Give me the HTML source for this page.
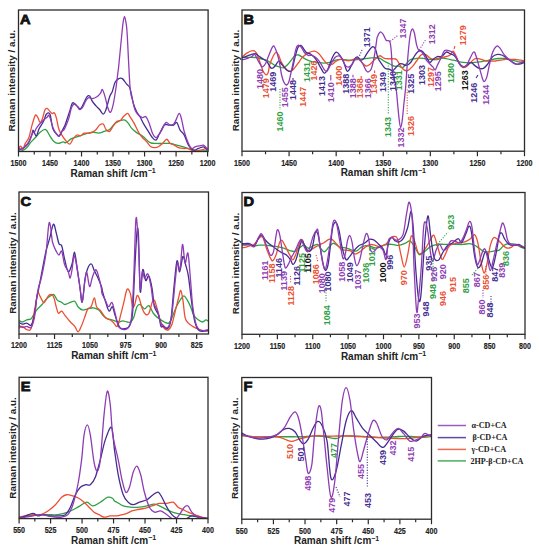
<!DOCTYPE html>
<html><head><meta charset="utf-8"><style>
html,body{margin:0;padding:0;background:#fff;}
body{width:539px;height:550px;overflow:hidden;}
svg{position:absolute;left:0;top:0;}
.tl{font:bold 8.3px "Liberation Sans", sans-serif;text-anchor:middle;fill:#222;stroke:#222;stroke-width:0.15px;}
.pl{font:bold 12.8px "Liberation Sans", sans-serif;fill:#111;stroke:#111;stroke-width:0.8px;}
.xl{font:bold 10px "Liberation Sans", sans-serif;text-anchor:middle;fill:#222;}
  .an{font:bold 9px "Liberation Sans", sans-serif;text-anchor:middle;}
.lg{font:bold 8.1px "Liberation Serif", serif;fill:#222;}
.yl{font:bold 9.9px "Liberation Sans", sans-serif;text-anchor:middle;fill:#222;}
</style></head><body>
<svg width="539" height="550" viewBox="0 0 539 550">
<defs><clipPath id="clipA"><rect x="18.5" y="10" width="189.1" height="141.5"/></clipPath><clipPath id="clipB"><rect x="242" y="10" width="282.5" height="141.2"/></clipPath><clipPath id="clipC"><rect x="19" y="192" width="189.5" height="142"/></clipPath><clipPath id="clipD"><rect x="242" y="192.5" width="283" height="141.8"/></clipPath><clipPath id="clipE"><rect x="19.1" y="377.3" width="188.9" height="141.3"/></clipPath><clipPath id="clipF"><rect x="241.8" y="377.5" width="189.7" height="141.70000000000005"/></clipPath></defs>
<g clip-path="url(#clipA)" fill="none" stroke-width="1.3" stroke-linejoin="round">
<path d="M18.00 152.09C18.73 151.85 20.91 151.36 22.36 150.64C23.82 149.91 25.27 149.18 26.73 147.73C28.18 146.27 29.64 143.61 31.09 141.91C32.55 140.21 34.00 139.12 35.45 137.55C36.91 135.97 38.12 133.79 39.82 132.45C41.52 131.12 43.94 128.94 45.64 129.55C47.33 130.15 48.67 134.15 50.00 136.09C51.33 138.03 52.30 139.97 53.64 141.18C54.97 142.39 56.42 143.24 58.00 143.36C59.58 143.48 61.76 142.03 63.09 141.91C64.42 141.79 64.61 143.18 66.00 142.64C67.39 142.09 69.64 139.61 71.45 138.64C73.27 137.67 75.09 137.42 76.91 136.82C78.73 136.21 80.55 135.61 82.36 135.00C84.18 134.39 86.00 133.64 87.82 133.18C89.64 132.73 91.45 132.27 93.27 132.27C95.09 132.27 96.91 133.33 98.73 133.18C100.55 133.03 102.36 131.97 104.18 131.36C106.00 130.76 107.97 130.76 109.64 129.55C111.30 128.33 112.97 125.30 114.18 124.09C115.39 122.88 115.85 122.88 116.91 122.27C117.97 121.67 119.20 120.82 120.55 120.45C121.90 120.09 123.71 119.58 125.01 120.08C126.31 120.57 127.23 122.02 128.35 123.41C129.46 124.81 130.29 126.89 131.69 128.42C133.08 129.95 134.75 131.20 136.69 132.60C138.64 133.99 141.15 135.10 143.37 136.77C145.60 138.44 147.82 141.50 150.05 142.61C152.28 143.73 154.50 143.31 156.73 143.45C158.95 143.59 161.18 143.45 163.41 143.45C165.63 143.45 167.86 143.17 170.08 143.45C172.31 143.73 174.54 144.56 176.76 145.12C178.99 145.67 181.21 146.09 183.44 146.79C185.66 147.48 187.89 148.59 190.12 149.29C192.34 149.99 194.57 150.68 196.79 150.96C199.02 151.24 201.52 151.10 203.47 150.96C205.42 150.82 207.65 150.26 208.48 150.13" stroke="#2ea043"/>
<path d="M18.00 147.73C18.12 147.73 18.24 147.97 18.73 147.73C19.21 147.48 20.18 146.03 20.91 146.27C21.64 146.52 22.36 149.67 23.09 149.18C23.82 148.70 24.30 145.30 25.27 143.36C26.24 141.42 27.82 140.45 28.91 137.55C30.00 134.64 30.85 129.42 31.82 125.91C32.79 122.39 34.00 118.27 34.73 116.45C35.45 114.64 35.58 114.64 36.18 115.00C36.79 115.36 37.76 117.42 38.36 118.64C38.97 119.85 39.21 122.03 39.82 122.27C40.42 122.52 41.15 122.15 42.00 120.09C42.85 118.03 44.06 111.85 44.91 109.91C45.76 107.97 46.36 108.33 47.09 108.45C47.82 108.58 48.42 109.79 49.27 110.64C50.12 111.48 51.33 113.18 52.18 113.55C53.03 113.91 53.64 111.97 54.36 112.82C55.09 113.67 55.82 115.97 56.55 118.64C57.27 121.30 57.88 126.15 58.73 128.82C59.58 131.48 60.67 132.94 61.64 134.64C62.61 136.33 63.21 137.42 64.55 139.00C65.88 140.58 68.18 144.15 69.64 144.09C71.09 144.03 72.06 140.15 73.27 138.64C74.48 137.12 75.70 135.45 76.91 135.00C78.12 134.55 79.33 136.21 80.55 135.91C81.76 135.61 82.67 133.64 84.18 133.18C85.70 132.73 87.82 133.64 89.64 133.18C91.45 132.73 93.42 131.82 95.09 130.45C96.76 129.09 98.27 126.06 99.64 125.00C101.00 123.94 102.21 123.33 103.27 124.09C104.33 124.85 104.94 128.33 106.00 129.55C107.06 130.76 108.42 131.97 109.64 131.36C110.85 130.76 112.06 127.58 113.27 125.91C114.48 124.24 115.70 122.27 116.91 121.36C118.12 120.45 119.48 121.21 120.55 120.45C121.61 119.70 122.11 117.99 123.27 116.82C124.43 115.64 126.39 113.41 127.51 113.40C128.64 113.38 128.90 115.07 130.02 116.74C131.13 118.41 132.80 120.91 134.19 123.41C135.58 125.92 137.11 129.54 138.36 131.76C139.62 133.99 140.31 135.10 141.70 136.77C143.09 138.44 145.18 140.11 146.71 141.78C148.24 143.45 149.49 145.81 150.88 146.79C152.28 147.76 153.81 147.62 155.06 147.62C156.31 147.62 157.15 147.48 158.40 146.79C159.65 146.09 161.18 144.70 162.57 143.45C163.96 142.20 165.49 139.27 166.74 139.27C168.00 139.27 168.83 142.47 170.08 143.45C171.34 144.42 172.87 144.42 174.26 145.12C175.65 145.81 176.90 147.06 178.43 147.62C179.96 148.18 181.77 148.32 183.44 148.46C185.11 148.59 186.78 148.04 188.45 148.46C190.12 148.87 191.51 150.68 193.46 150.96C195.40 151.24 197.91 150.54 200.13 150.13C202.36 149.71 205.48 148.73 206.81 148.46C208.14 148.18 207.89 148.46 208.10 148.46" stroke="#ec4f33"/>
<path d="M18.00 150.64C18.97 150.15 22.12 148.94 23.82 147.73C25.52 146.52 26.85 145.55 28.18 143.36C29.52 141.18 30.97 136.82 31.82 134.64C32.67 132.45 32.55 130.03 33.27 130.27C34.00 130.52 35.21 136.33 36.18 136.09C37.15 135.85 37.88 131.24 39.09 128.82C40.30 126.39 42.24 123.97 43.45 121.55C44.67 119.12 45.27 115.48 46.36 114.27C47.45 113.06 48.91 111.85 50.00 114.27C51.09 116.70 51.70 125.42 52.91 128.82C54.12 132.21 56.18 133.42 57.27 134.64C58.36 135.85 58.61 136.82 59.45 136.09C60.30 135.36 61.39 132.21 62.36 130.27C63.33 128.33 64.06 127.61 65.27 124.45C66.48 121.30 68.45 114.91 69.64 111.36C70.82 107.82 71.45 104.39 72.36 103.18C73.27 101.97 74.18 103.48 75.09 104.09C76.00 104.70 76.91 106.06 77.82 106.82C78.73 107.58 79.48 109.39 80.55 108.64C81.61 107.88 83.12 104.24 84.18 102.27C85.24 100.30 86.00 97.88 86.91 96.82C87.82 95.76 88.73 95.15 89.64 95.91C90.55 96.67 91.30 99.70 92.36 101.36C93.42 103.03 94.79 104.55 96.00 105.91C97.21 107.27 98.42 108.18 99.64 109.55C100.85 110.91 102.21 114.09 103.27 114.09C104.33 114.09 104.94 112.42 106.00 109.55C107.06 106.67 108.58 99.85 109.64 96.82C110.70 93.79 111.45 93.79 112.36 91.36C113.27 88.94 114.03 84.39 115.09 82.27C116.15 80.15 117.52 79.24 118.73 78.64C119.94 78.03 121.04 77.71 122.36 78.64C123.69 79.56 125.40 82.56 126.68 84.18C127.95 85.80 128.90 85.16 130.02 88.36C131.13 91.56 132.24 99.49 133.36 103.38C134.47 107.28 135.58 109.50 136.69 111.73C137.81 113.95 138.92 114.79 140.03 116.74C141.15 118.68 142.12 121.19 143.37 123.41C144.62 125.64 146.15 127.87 147.55 130.09C148.94 132.32 150.33 135.10 151.72 136.77C153.11 138.44 154.64 140.53 155.89 140.11C157.15 139.69 157.84 136.77 159.23 134.27C160.62 131.76 162.71 126.61 164.24 125.08C165.77 123.55 166.88 125.08 168.41 125.08C169.94 125.08 172.03 125.50 173.42 125.08C174.81 124.67 175.65 121.74 176.76 122.58C177.87 123.41 178.85 128.01 180.10 130.09C181.35 132.18 182.88 132.60 184.27 135.10C185.66 137.60 186.92 142.61 188.45 145.12C189.98 147.62 191.79 149.57 193.46 150.13C195.13 150.68 196.79 149.01 198.46 148.46C200.13 147.90 202.08 146.65 203.47 146.79C204.86 146.93 206.04 148.87 206.81 149.29C207.58 149.71 207.89 149.29 208.10 149.29" stroke="#452c91"/>
<path d="M18.00 147.00C18.48 147.36 19.70 149.30 20.91 149.18C22.12 149.06 23.82 147.73 25.27 146.27C26.73 144.82 28.42 142.64 29.64 140.45C30.85 138.27 31.70 134.64 32.55 133.18C33.39 131.73 34.00 132.70 34.73 131.73C35.45 130.76 35.70 129.06 36.91 127.36C38.12 125.67 40.30 123.24 42.00 121.55C43.70 119.85 45.88 118.15 47.09 117.18C48.30 116.21 48.30 114.03 49.27 115.73C50.24 117.42 51.82 124.45 52.91 127.36C54.00 130.27 54.85 131.73 55.82 133.18C56.79 134.64 57.76 136.33 58.73 136.09C59.70 135.85 60.67 132.94 61.64 131.73C62.61 130.52 63.36 131.00 64.55 128.82C65.73 126.64 67.58 122.15 68.73 118.64C69.88 115.12 70.55 110.15 71.45 107.73C72.36 105.30 73.27 104.39 74.18 104.09C75.09 103.79 76.00 105.00 76.91 105.91C77.82 106.82 78.73 109.24 79.64 109.55C80.55 109.85 81.30 109.24 82.36 107.73C83.42 106.21 84.94 102.12 86.00 100.45C87.06 98.79 87.67 98.03 88.73 97.73C89.79 97.42 91.00 98.79 92.36 98.64C93.73 98.48 95.55 97.73 96.91 96.82C98.27 95.91 99.64 94.39 100.55 93.18C101.45 91.97 101.61 88.94 102.36 89.55C103.12 90.15 104.18 93.79 105.09 96.82C106.00 99.85 106.91 105.15 107.82 107.73C108.73 110.30 109.64 112.88 110.55 112.27C111.45 111.67 112.36 108.18 113.27 104.09C114.18 100.00 115.24 92.88 116.00 87.73C116.76 82.58 117.36 76.82 117.82 73.18C118.27 69.55 118.05 72.48 118.73 65.91C119.40 59.34 121.13 41.09 121.87 33.75C122.62 26.41 122.75 24.73 123.19 21.87C123.63 19.01 124.07 16.60 124.51 16.60C124.95 16.60 125.39 19.01 125.83 21.87C126.27 24.73 126.45 22.94 127.15 33.75C127.85 44.55 129.12 75.64 130.02 86.69C130.91 97.74 131.69 96.15 132.52 100.04C133.36 103.94 134.05 107.55 135.03 110.06C136.00 112.56 137.11 113.81 138.36 115.07C139.62 116.32 141.29 117.29 142.54 117.57C143.79 117.85 144.76 115.76 145.88 116.74C146.99 117.71 148.10 120.63 149.22 123.41C150.33 126.20 151.44 131.07 152.55 133.43C153.67 135.80 154.92 137.33 155.89 137.60C156.87 137.88 157.42 136.35 158.40 135.10C159.37 133.85 160.48 132.18 161.74 130.09C162.99 128.01 164.52 123.41 165.91 122.58C167.30 121.74 168.83 124.81 170.08 125.08C171.34 125.36 172.45 125.08 173.42 124.25C174.40 123.41 174.95 121.88 175.93 120.08C176.90 118.27 178.29 113.40 179.27 113.40C180.24 113.40 180.93 117.01 181.77 120.08C182.60 123.14 183.16 127.87 184.27 131.76C185.39 135.66 187.20 140.66 188.45 143.45C189.70 146.23 190.67 147.90 191.79 148.46C192.90 149.01 193.87 147.20 195.13 146.79C196.38 146.37 197.91 146.23 199.30 145.95C200.69 145.67 202.22 144.70 203.47 145.12C204.72 145.53 206.04 147.90 206.81 148.46C207.58 149.01 207.89 148.46 208.10 148.46" stroke="#8e3cb4"/>
</g>
<g clip-path="url(#clipB)" fill="none" stroke-width="1.3" stroke-linejoin="round">
<path d="M242.00 57.32C243.01 57.32 245.70 57.29 248.03 57.32C250.36 57.35 253.84 57.25 256.00 57.50C258.16 57.75 259.33 58.35 261.00 58.80C262.67 59.25 264.42 59.58 266.00 60.20C267.58 60.82 269.02 61.63 270.50 62.50C271.98 63.37 273.42 64.67 274.90 65.40C276.38 66.13 277.92 66.52 279.40 66.90C280.88 67.28 282.45 68.07 283.80 67.70C285.15 67.33 286.27 65.95 287.50 64.70C288.73 63.45 289.97 61.68 291.20 60.20C292.43 58.72 293.65 56.67 294.90 55.80C296.15 54.93 297.45 54.75 298.70 55.00C299.95 55.25 301.19 56.58 302.40 57.30C303.61 58.02 304.36 58.61 305.93 59.32C307.51 60.02 309.89 61.05 311.87 61.54C313.85 62.04 315.83 62.04 317.80 62.28C319.78 62.53 321.76 63.03 323.74 63.03C325.72 63.03 327.70 62.78 329.67 62.28C331.65 61.79 333.63 60.55 335.61 60.06C337.59 59.56 339.56 59.32 341.54 59.32C343.52 59.32 345.50 59.94 347.48 60.06C349.46 60.18 351.43 60.18 353.41 60.06C355.39 59.94 357.37 59.56 359.35 59.32C361.33 59.07 363.30 58.82 365.28 58.58C367.26 58.33 368.86 57.93 371.22 57.83C373.58 57.74 377.34 57.50 379.45 58.03C381.57 58.55 382.17 60.00 383.90 60.99C385.63 61.98 388.11 63.10 389.84 63.96C391.57 64.83 392.80 65.82 394.29 66.19C395.77 66.56 397.38 65.94 398.74 66.19C400.10 66.43 401.21 68.04 402.45 67.67C403.68 67.30 404.80 65.32 406.16 63.96C407.52 62.60 409.12 60.38 410.61 59.51C412.09 58.64 413.58 59.02 415.06 58.77C416.54 58.52 417.78 58.03 419.51 58.03C421.24 58.03 423.47 58.52 425.45 58.77C427.42 59.02 429.40 59.39 431.38 59.51C433.36 59.63 435.34 59.76 437.31 59.51C439.29 59.26 440.62 57.92 443.25 58.03C445.88 58.14 450.38 59.53 453.11 60.16C455.85 60.79 457.49 61.39 459.67 61.80C461.86 62.21 464.04 62.49 466.23 62.62C468.42 62.76 470.60 62.76 472.79 62.62C474.97 62.49 477.16 62.08 479.34 61.80C481.53 61.53 483.72 61.39 485.90 60.98C488.09 60.57 490.27 59.75 492.46 59.34C494.64 58.93 496.83 58.66 499.02 58.52C501.20 58.39 503.39 58.25 505.57 58.52C507.76 58.80 509.95 59.62 512.13 60.16C514.32 60.71 516.53 61.39 518.69 61.80C520.85 62.21 524.02 62.49 525.08 62.62" stroke="#2ea043"/>
<path d="M242.00 57.32C242.80 56.61 245.02 54.20 246.83 53.09C248.63 51.99 251.24 50.68 252.86 50.68C254.47 50.68 255.29 51.10 256.50 53.10C257.71 55.10 259.00 59.68 260.10 62.70C261.20 65.72 262.10 69.18 263.10 71.20C264.10 73.22 265.25 74.58 266.10 74.80C266.95 75.02 267.60 74.18 268.20 72.50C268.80 70.82 268.83 67.48 269.70 64.70C270.57 61.92 272.35 57.85 273.40 55.80C274.45 53.75 275.13 52.53 276.00 52.40C276.87 52.27 277.80 53.57 278.60 55.00C279.40 56.43 279.93 59.13 280.80 61.00C281.67 62.87 282.80 64.72 283.80 66.20C284.80 67.68 285.68 69.03 286.80 69.90C287.92 70.77 289.27 71.65 290.50 71.40C291.73 71.15 292.83 69.88 294.20 68.40C295.57 66.92 297.33 64.35 298.70 62.50C300.07 60.65 300.70 58.94 302.40 57.30C304.10 55.66 306.83 53.66 308.90 52.64C310.97 51.62 313.11 50.91 314.84 51.16C316.57 51.40 317.80 52.64 319.29 54.12C320.77 55.61 322.26 58.33 323.74 60.06C325.22 61.79 326.83 63.77 328.19 64.51C329.55 65.25 330.66 65.00 331.90 64.51C333.14 64.02 334.25 62.41 335.61 61.54C336.97 60.68 338.58 59.56 340.06 59.32C341.54 59.07 343.03 59.81 344.51 60.06C345.99 60.31 347.48 60.92 348.96 60.80C350.45 60.68 351.93 59.69 353.41 59.32C354.90 58.95 356.38 57.96 357.86 58.58C359.35 59.19 360.95 61.79 362.31 63.03C363.67 64.26 364.79 65.75 366.02 65.99C367.26 66.24 368.37 65.50 369.73 64.51C371.09 63.52 372.56 61.51 374.18 60.06C375.80 58.61 377.83 56.14 379.45 55.80C381.07 55.46 382.42 57.53 383.90 58.03C385.39 58.52 386.87 58.64 388.35 58.77C389.84 58.89 391.44 58.64 392.80 58.77C394.16 58.89 395.28 58.40 396.51 59.51C397.75 60.62 398.99 63.71 400.22 65.45C401.46 67.18 402.70 69.03 403.93 69.90C405.17 70.76 406.28 71.13 407.64 70.64C409.00 70.14 410.61 68.54 412.09 66.93C413.58 65.32 415.06 62.97 416.54 60.99C418.03 59.02 419.51 56.17 420.99 55.06C422.48 53.95 423.96 53.82 425.45 54.32C426.93 54.81 428.41 57.16 429.90 58.03C431.38 58.89 432.86 59.51 434.35 59.51C435.83 59.51 437.31 58.40 438.80 58.03C440.28 57.66 441.41 57.75 443.25 57.28C445.09 56.82 448.19 56.27 449.84 55.25C451.48 54.22 452.02 50.87 453.11 51.15C454.21 51.42 455.30 54.70 456.39 56.89C457.49 59.07 458.58 62.49 459.67 64.26C460.77 66.04 461.86 67.13 462.95 67.54C464.04 67.95 465.00 67.54 466.23 66.72C467.46 65.90 468.83 63.99 470.33 62.62C471.83 61.26 473.47 59.07 475.25 58.52C477.02 57.98 479.21 58.93 480.98 59.34C482.76 59.75 484.26 60.71 485.90 60.98C487.54 61.26 489.18 60.98 490.82 60.98C492.46 60.98 494.10 61.12 495.74 60.98C497.38 60.85 499.02 60.44 500.66 60.16C502.30 59.89 503.93 59.48 505.57 59.34C507.21 59.21 508.85 59.34 510.49 59.34C512.13 59.34 513.77 59.21 515.41 59.34C517.05 59.48 518.72 59.89 520.33 60.16C521.94 60.44 524.29 60.85 525.08 60.98" stroke="#ec4f33"/>
<path d="M242.00 57.92C242.80 57.62 245.22 56.71 246.83 56.11C248.43 55.51 250.24 54.72 251.65 54.30C253.06 53.88 254.19 53.35 255.30 53.60C256.41 53.85 257.07 54.95 258.30 55.80C259.53 56.65 261.22 57.67 262.70 58.70C264.18 59.73 266.07 60.75 267.20 62.00C268.33 63.25 268.72 65.13 269.50 66.20C270.28 67.27 271.00 68.40 271.90 68.40C272.80 68.40 273.78 67.43 274.90 66.20C276.02 64.97 277.62 61.50 278.60 61.00C279.58 60.50 279.93 62.22 280.80 63.20C281.67 64.18 282.80 65.78 283.80 66.90C284.80 68.02 285.82 69.15 286.80 69.90C287.78 70.65 288.83 71.40 289.70 71.40C290.57 71.40 291.12 72.25 292.00 69.90C292.88 67.55 294.02 61.02 295.00 57.30C295.98 53.58 296.92 49.58 297.90 47.60C298.88 45.62 299.92 45.15 300.90 45.40C301.88 45.65 302.87 47.90 303.80 49.10C304.73 50.30 305.28 51.70 306.50 52.60C307.72 53.50 309.55 53.42 311.10 54.50C312.65 55.58 314.40 57.25 315.80 59.10C317.20 60.95 318.27 63.43 319.50 65.60C320.73 67.77 322.28 70.87 323.20 72.10C324.12 73.33 324.23 73.47 325.00 73.00C325.77 72.53 326.55 71.92 327.80 69.30C329.05 66.68 331.10 60.15 332.50 57.30C333.90 54.45 334.97 52.52 336.20 52.20C337.43 51.88 338.67 53.78 339.90 55.40C341.13 57.02 342.37 59.27 343.60 61.90C344.83 64.53 346.04 70.52 347.30 71.20C348.56 71.88 349.92 68.10 351.19 65.99C352.45 63.89 353.78 60.06 354.90 58.58C356.01 57.09 356.87 56.84 357.86 57.09C358.85 57.34 359.84 59.81 360.83 60.06C361.82 60.31 362.69 59.81 363.80 58.58C364.91 57.34 366.02 54.62 367.51 52.64C368.99 50.66 371.34 47.20 372.70 46.71C374.06 46.21 374.79 47.79 375.67 49.67C376.55 51.56 376.97 55.65 377.97 58.03C378.97 60.41 380.44 62.23 381.68 63.96C382.91 65.69 384.15 67.55 385.39 68.41C386.62 69.28 387.86 68.78 389.09 69.15C390.33 69.53 391.69 70.89 392.80 70.64C393.92 70.39 394.66 68.78 395.77 67.67C396.88 66.56 398.37 64.58 399.48 63.96C400.59 63.34 401.34 63.71 402.45 63.96C403.56 64.21 404.80 65.69 406.16 65.45C407.52 65.20 409.12 64.21 410.61 62.48C412.09 60.75 413.58 57.04 415.06 55.06C416.54 53.08 418.15 51.10 419.51 50.61C420.87 50.11 421.98 50.86 423.22 52.09C424.46 53.33 425.82 56.30 426.93 58.03C428.04 59.76 428.91 62.23 429.90 62.48C430.89 62.73 431.63 60.50 432.86 59.51C434.10 58.52 435.83 57.04 437.31 56.54C438.80 56.05 440.28 57.28 441.77 56.54C443.25 55.80 444.87 52.58 446.22 52.09C447.56 51.60 448.41 52.94 449.84 53.61C451.26 54.27 453.25 54.56 454.75 56.07C456.26 57.57 457.49 60.85 458.85 62.62C460.22 64.40 461.58 66.31 462.95 66.72C464.32 67.13 465.68 65.77 467.05 65.08C468.42 64.40 469.78 62.49 471.15 62.62C472.51 62.76 473.88 64.95 475.25 65.90C476.61 66.86 477.98 67.95 479.34 68.36C480.71 68.77 482.08 69.04 483.44 68.36C484.81 67.68 486.04 66.17 487.54 64.26C489.04 62.35 490.82 58.52 492.46 56.89C494.10 55.25 495.74 54.70 497.38 54.43C499.02 54.15 500.66 54.56 502.30 55.25C503.93 55.93 505.57 57.43 507.21 58.52C508.85 59.62 510.49 60.85 512.13 61.80C513.77 62.76 515.41 63.99 517.05 64.26C518.69 64.54 520.63 63.85 521.97 63.44C523.31 63.03 524.56 62.08 525.08 61.80" stroke="#452c91"/>
<path d="M242.00 59.73C242.80 59.53 245.22 59.02 246.83 58.52C248.43 58.02 250.35 57.42 251.65 56.71C252.95 56.01 253.63 53.84 254.60 54.30C255.57 54.76 256.52 57.77 257.50 59.50C258.48 61.23 259.63 63.47 260.50 64.70C261.37 65.93 261.83 67.15 262.70 66.90C263.57 66.65 264.70 65.05 265.70 63.20C266.70 61.35 267.45 58.65 268.70 55.80C269.95 52.95 271.92 46.85 273.20 46.10C274.48 45.35 275.50 49.20 276.40 51.30C277.30 53.40 277.98 56.22 278.60 58.70C279.22 61.18 279.60 63.48 280.10 66.20C280.60 68.92 280.95 72.28 281.60 75.00C282.25 77.72 283.17 80.83 284.00 82.50C284.83 84.17 285.80 85.08 286.60 85.00C287.40 84.92 288.15 83.67 288.80 82.00C289.45 80.33 289.85 77.88 290.50 75.00C291.15 72.12 291.83 68.90 292.70 64.70C293.57 60.50 294.83 53.02 295.70 49.80C296.57 46.58 297.03 45.88 297.90 45.40C298.77 44.92 299.78 45.67 300.90 46.90C302.02 48.13 303.37 51.38 304.60 52.80C305.83 54.22 307.05 54.97 308.30 55.40C309.55 55.83 310.70 54.93 312.10 55.40C313.50 55.87 315.32 56.97 316.70 58.20C318.08 59.43 319.17 60.95 320.40 62.80C321.63 64.65 323.02 67.90 324.10 69.30C325.18 70.70 325.82 71.97 326.90 71.20C327.98 70.43 329.20 67.02 330.60 64.70C332.00 62.38 333.90 58.77 335.30 57.30C336.70 55.83 337.93 55.75 339.00 55.90C340.07 56.05 340.62 56.58 341.70 58.20C342.78 59.82 344.28 64.13 345.50 65.60C346.72 67.07 347.93 67.18 349.00 67.00C350.07 66.82 350.82 65.91 351.93 64.51C353.04 63.11 354.53 59.56 355.64 58.58C356.75 57.59 357.49 57.83 358.61 58.58C359.72 59.32 361.08 61.05 362.31 63.03C363.55 65.00 365.03 68.96 366.02 70.45C367.01 71.93 367.38 72.18 368.25 71.93C369.11 71.68 370.23 71.43 371.22 68.96C372.21 66.49 373.32 61.54 374.18 57.09C375.05 52.64 375.90 45.56 376.41 42.26C376.92 38.95 376.59 38.95 377.23 37.26C377.86 35.56 379.20 32.56 380.19 32.06C381.18 31.57 382.17 32.93 383.16 34.29C384.15 35.65 385.01 38.99 386.13 40.22C387.24 41.46 388.97 39.73 389.84 41.71C390.70 43.68 390.83 46.65 391.32 52.09C391.82 57.53 392.07 68.86 392.80 74.35C393.54 79.83 394.95 80.27 395.73 85.00C396.51 89.73 396.91 96.82 397.50 102.73C398.09 108.64 398.74 116.32 399.28 120.46C399.81 124.60 400.20 127.55 400.70 127.55C401.19 127.55 401.68 124.60 402.23 120.46C402.78 116.32 403.45 108.05 404.00 102.73C404.56 97.41 404.94 95.75 405.54 88.55C406.15 81.34 406.92 68.06 407.64 59.51C408.36 50.96 409.12 42.32 409.87 37.26C410.61 32.19 411.35 29.84 412.09 29.09C412.83 28.35 413.58 30.21 414.32 32.80C415.06 35.40 415.80 41.71 416.54 44.67C417.28 47.64 418.03 49.50 418.77 50.61C419.51 51.72 420.13 50.61 420.99 51.35C421.86 52.09 422.97 53.45 423.96 55.06C424.95 56.67 425.94 59.51 426.93 60.99C427.92 62.48 428.91 62.97 429.90 63.96C430.89 64.95 432.00 65.94 432.86 66.93C433.73 67.92 434.35 70.14 435.09 69.90C435.83 69.65 436.45 67.18 437.31 65.45C438.18 63.71 439.05 61.98 440.28 59.51C441.52 57.04 443.14 52.00 444.73 50.61C446.33 49.21 448.44 50.78 449.84 51.15C451.23 51.51 452.02 51.69 453.11 52.79C454.21 53.88 455.30 55.79 456.39 57.70C457.49 59.62 458.58 62.76 459.67 64.26C460.77 65.77 461.86 66.45 462.95 66.72C464.04 66.99 465.14 67.13 466.23 65.90C467.32 64.67 468.28 61.67 469.51 59.34C470.74 57.02 472.51 52.51 473.61 51.97C474.70 51.42 475.11 53.47 476.07 56.07C477.02 58.66 478.25 63.72 479.34 67.54C480.44 71.37 481.80 76.69 482.62 79.02C483.44 81.34 483.58 81.75 484.26 81.48C484.95 81.20 485.90 79.97 486.72 77.38C487.54 74.78 488.22 70.00 489.18 65.90C490.14 61.80 491.23 56.07 492.46 52.79C493.69 49.51 495.33 47.05 496.56 46.23C497.79 45.41 498.61 46.50 499.84 47.87C501.07 49.23 502.43 52.51 503.93 54.43C505.44 56.34 507.21 57.84 508.85 59.34C510.49 60.85 512.27 62.62 513.77 63.44C515.27 64.26 516.50 64.54 517.87 64.26C519.23 63.99 520.77 62.08 521.97 61.80C523.17 61.53 524.56 62.49 525.08 62.62" stroke="#8e3cb4"/>
</g>
<path d="M330.8 75.0 L330.8 80.5" stroke="#8e3cb4" stroke-width="1.1" fill="none"/>
<path d="M353.0 74.8 L353.0 77.5" stroke="#8e3cb4" stroke-width="1.1" fill="none"/>
<path d="M361.2 76.0 L361.2 78.5" stroke="#ec4f33" stroke-width="1.1" fill="none"/>
<path d="M374.6 70.4 L374.6 73.0" stroke="#ec4f33" stroke-width="1.1" fill="none"/>
<path d="M293.0 78.0 L293.0 80.5" stroke="#452c91" stroke-width="1.1" fill="none"/>
<path d="M280.0 89.0 L280.0 110.0" stroke="#2ea043" stroke-width="1.1" stroke-dasharray="1.1 1.5" fill="none"/>
<path d="M388.3 65.5 L388.3 115.0" stroke="#2ea043" stroke-width="1.1" stroke-dasharray="1.1 1.5" fill="none"/>
<path d="M407.2 89.5 L407.2 115.0" stroke="#ec4f33" stroke-width="1.1" stroke-dasharray="1.1 1.5" fill="none"/>
<path d="M397.3 35.8 L389.8 41.7" stroke="#8e3cb4" stroke-width="1.1" stroke-dasharray="1.1 1.5" fill="none"/>
<path d="M425.4 40.2 L418.8 50.6" stroke="#8e3cb4" stroke-width="1.1" stroke-dasharray="1.1 1.5" fill="none"/>
<path d="M362.0 50.0 L359.0 57.0" stroke="#452c91" stroke-width="1.1" stroke-dasharray="1.1 1.5" fill="none"/>
<path d="M455.0 46.0 L454.0 49.0" stroke="#ec4f33" stroke-width="1.1" fill="none"/>
<path d="M478.0 75.0 L476.0 78.0" stroke="#452c91" stroke-width="1.1" fill="none"/>
<text transform="translate(259.55,79.10) rotate(-90)" y="3.24" class="an" fill="#8e3cb4">1480</text>
<text transform="translate(265.90,88.15) rotate(-90)" y="3.24" class="an" fill="#ec4f33">1479</text>
<text transform="translate(272.25,81.85) rotate(-90)" y="3.24" class="an" fill="#452c91">1469</text>
<text transform="translate(279.55,121.40) rotate(-90)" y="3.24" class="an" fill="#2ea043">1460</text>
<text transform="translate(285.00,97.20) rotate(-90)" y="3.24" class="an" fill="#8e3cb4">1455</text>
<text transform="translate(292.25,90.00) rotate(-90)" y="3.24" class="an" fill="#452c91">1448</text>
<text transform="translate(302.75,96.70) rotate(-90)" y="3.24" class="an" fill="#ec4f33">1447</text>
<text transform="translate(306.30,71.90) rotate(-90)" y="3.24" class="an" fill="#2ea043">1431</text>
<text transform="translate(314.00,70.40) rotate(-90)" y="3.24" class="an" fill="#ec4f33">1426</text>
<text transform="translate(321.90,85.95) rotate(-90)" y="3.24" class="an" fill="#452c91">1413</text>
<text transform="translate(330.75,92.25) rotate(-90)" y="3.24" class="an" fill="#8e3cb4">1410</text>
<text transform="translate(338.55,75.65) rotate(-90)" y="3.24" class="an" fill="#ec4f33">1400</text>
<text transform="translate(345.25,83.85) rotate(-90)" y="3.24" class="an" fill="#452c91">1388</text>
<text transform="translate(352.65,88.30) rotate(-90)" y="3.24" class="an" fill="#8e3cb4">1388</text>
<text transform="translate(360.00,88.30) rotate(-90)" y="3.24" class="an" fill="#ec4f33">1368</text>
<text transform="translate(367.50,88.25) rotate(-90)" y="3.24" class="an" fill="#8e3cb4">1366</text>
<text transform="translate(373.75,84.10) rotate(-90)" y="3.24" class="an" fill="#ec4f33">1349</text>
<text transform="translate(366.60,37.35) rotate(-90)" y="3.24" class="an" fill="#452c91">1371</text>
<text transform="translate(383.10,82.10) rotate(-90)" y="3.24" class="an" fill="#452c91">1349</text>
<text transform="translate(392.90,81.05) rotate(-90)" y="3.24" class="an" fill="#452c91">1340</text>
<text transform="translate(399.15,80.30) rotate(-90)" y="3.24" class="an" fill="#2ea043">1331</text>
<text transform="translate(410.65,83.70) rotate(-90)" y="3.24" class="an" fill="#452c91">1325</text>
<text transform="translate(387.45,126.90) rotate(-90)" y="3.24" class="an" fill="#2ea043">1343</text>
<text transform="translate(400.45,137.60) rotate(-90)" y="3.24" class="an" fill="#8e3cb4">1332</text>
<text transform="translate(410.50,126.10) rotate(-90)" y="3.24" class="an" fill="#ec4f33">1326</text>
<text transform="translate(402.85,28.40) rotate(-90)" y="3.24" class="an" fill="#8e3cb4">1347</text>
<text transform="translate(431.35,34.30) rotate(-90)" y="3.24" class="an" fill="#8e3cb4">1312</text>
<text transform="translate(422.15,75.05) rotate(-90)" y="3.24" class="an" fill="#452c91">1303</text>
<text transform="translate(430.65,76.95) rotate(-90)" y="3.24" class="an" fill="#ec4f33">1297</text>
<text transform="translate(437.30,81.35) rotate(-90)" y="3.24" class="an" fill="#8e3cb4">1295</text>
<text transform="translate(450.65,73.00) rotate(-90)" y="3.24" class="an" fill="#2ea043">1280</text>
<text transform="translate(462.55,35.15) rotate(-90)" y="3.24" class="an" fill="#ec4f33">1279</text>
<text transform="translate(465.00,80.25) rotate(-90)" y="3.24" class="an" fill="#111111">1263</text>
<text transform="translate(473.65,92.85) rotate(-90)" y="3.24" class="an" fill="#452c91">1246</text>
<text transform="translate(485.30,94.75) rotate(-90)" y="3.24" class="an" fill="#8e3cb4">1244</text>
<g clip-path="url(#clipC)" fill="none" stroke-width="1.3" stroke-linejoin="round">
<path d="M18.00 319.80C18.73 320.17 20.91 321.99 22.37 321.99C23.82 321.99 25.28 320.35 26.73 319.80C28.19 319.26 29.83 319.80 31.10 318.71C32.37 317.62 33.28 314.89 34.38 313.25C35.47 311.62 36.38 310.34 37.65 308.89C38.92 307.43 40.56 306.16 42.02 304.52C43.47 302.88 44.93 300.52 46.38 299.06C47.84 297.61 49.48 296.51 50.75 295.79C52.02 295.06 52.93 293.97 54.03 294.69C55.12 295.42 56.03 298.88 57.30 300.15C58.57 301.43 60.39 301.61 61.67 302.34C62.94 303.06 63.49 304.52 64.94 304.52C66.39 304.52 68.74 302.88 70.37 302.34C72.00 301.79 73.46 300.52 74.73 301.24C76.01 301.97 76.74 305.25 78.01 306.70C79.28 308.16 80.74 309.61 82.38 309.98C84.01 310.34 86.01 309.25 87.83 308.89C89.65 308.52 91.47 307.61 93.29 307.79C95.11 307.98 97.11 308.70 98.75 309.98C100.39 311.25 101.66 313.98 103.12 315.44C104.57 316.89 106.03 317.98 107.48 318.71C108.94 319.44 110.04 319.26 111.85 319.80C113.67 320.35 116.55 321.80 118.37 321.99C120.18 322.17 121.28 320.90 122.73 320.90C124.19 320.90 125.83 321.80 127.10 321.99C128.37 322.17 129.28 322.71 130.38 321.99C131.47 321.26 132.56 320.17 133.65 317.62C134.74 315.07 135.83 308.89 136.93 306.70C138.02 304.52 138.93 304.16 140.20 304.52C141.47 304.88 143.11 308.70 144.57 308.89C146.02 309.07 147.48 304.88 148.93 305.61C150.39 306.34 151.85 311.25 153.30 313.25C154.76 315.25 155.82 316.16 157.67 317.62C159.51 319.08 162.52 321.08 164.37 321.99C166.21 322.90 167.46 323.81 168.73 323.08C170.01 322.35 170.74 320.35 172.01 317.62C173.28 314.89 174.92 309.80 176.38 306.70C177.83 303.61 179.47 300.88 180.74 299.06C182.02 297.24 182.93 295.60 184.02 295.79C185.11 295.97 186.20 298.33 187.29 300.15C188.38 301.97 189.48 304.16 190.57 306.70C191.66 309.25 192.57 313.25 193.84 315.44C195.12 317.62 196.75 318.71 198.21 319.80C199.67 320.90 201.30 321.99 202.58 321.99C203.85 321.99 204.94 319.99 205.85 319.80C206.76 319.62 207.51 320.71 208.03 320.90C208.56 321.08 208.84 320.90 209.00 320.90" stroke="#2ea043"/>
<path d="M18.00 328.54C18.73 328.17 20.91 326.17 22.37 326.35C23.82 326.54 25.28 329.26 26.73 329.63C28.19 329.99 29.83 331.63 31.10 328.54C32.37 325.44 33.28 316.89 34.38 311.07C35.47 305.25 36.74 296.15 37.65 293.60C38.56 291.06 39.11 294.69 39.83 295.79C40.56 296.88 41.29 299.06 42.02 300.15C42.75 301.24 43.11 303.06 44.20 302.34C45.29 301.61 47.29 297.06 48.57 295.79C49.84 294.51 50.93 294.33 51.84 294.69C52.75 295.06 53.30 295.97 54.03 297.97C54.75 299.97 55.48 304.16 56.21 306.70C56.94 309.25 57.48 312.53 58.39 313.25C59.30 313.98 60.58 310.71 61.67 311.07C62.76 311.43 63.49 313.62 64.94 315.44C66.39 317.26 68.74 320.17 70.37 321.99C72.00 323.81 73.46 324.72 74.73 326.35C76.01 327.99 76.92 331.81 78.01 331.81C79.10 331.81 80.19 328.72 81.28 326.35C82.38 323.99 83.47 320.53 84.56 317.62C85.65 314.71 86.74 310.71 87.83 308.89C88.93 307.07 90.02 308.52 91.11 306.70C92.20 304.88 93.47 297.97 94.38 297.97C95.29 297.97 95.48 304.52 96.57 306.70C97.66 308.89 99.48 309.25 100.93 311.07C102.39 312.89 103.85 316.16 105.30 317.62C106.76 319.08 108.39 319.08 109.67 319.80C110.94 320.53 111.68 320.90 112.94 321.99C114.21 323.08 116.01 327.45 117.28 326.35C118.54 325.26 119.46 319.44 120.55 315.44C121.64 311.43 122.73 306.70 123.83 302.34C124.92 297.97 126.01 290.69 127.10 289.24C128.19 287.78 129.47 290.69 130.38 293.60C131.29 296.51 131.83 304.88 132.56 306.70C133.29 308.52 134.01 306.34 134.74 304.52C135.47 302.70 136.20 296.88 136.93 295.79C137.65 294.69 138.20 295.79 139.11 297.97C140.02 300.15 141.29 306.16 142.38 308.89C143.48 311.62 144.57 313.62 145.66 314.34C146.75 315.07 147.84 315.25 148.93 313.25C150.03 311.25 151.30 304.52 152.21 302.34C153.12 300.15 153.67 299.43 154.39 300.15C155.12 300.88 155.67 303.43 156.58 306.70C157.49 309.98 158.55 316.16 159.85 319.80C161.15 323.44 162.89 326.90 164.37 328.54C165.85 330.17 167.46 330.36 168.73 329.63C170.01 328.90 170.92 327.26 172.01 324.17C173.10 321.08 174.19 315.44 175.28 311.07C176.38 306.70 177.65 301.43 178.56 297.97C179.47 294.51 180.01 289.96 180.74 290.33C181.47 290.69 182.20 295.60 182.93 300.15C183.65 304.70 184.20 313.80 185.11 317.62C186.02 321.44 187.11 321.62 188.38 323.08C189.66 324.53 191.30 325.44 192.75 326.35C194.21 327.26 195.30 327.81 197.12 328.54C198.94 329.26 201.85 330.36 203.67 330.72C205.49 331.08 207.15 330.72 208.03 330.72C208.92 330.72 208.84 330.72 209.00 330.72" stroke="#ec4f33"/>
<path d="M18.00 321.99C18.73 322.35 20.91 323.99 22.37 324.17C23.82 324.35 25.28 322.90 26.73 323.08C28.19 323.26 29.83 326.54 31.10 325.26C32.37 323.99 33.44 319.98 34.38 315.44C35.31 310.89 36.00 302.41 36.70 298.00C37.40 293.59 37.98 292.00 38.60 289.00C39.22 286.00 39.78 283.20 40.40 280.00C41.02 276.80 41.37 274.60 42.30 269.80C43.23 265.00 44.77 256.47 46.00 251.20C47.23 245.93 48.47 242.68 49.70 238.20C50.93 233.72 52.32 225.22 53.40 224.30C54.48 223.38 55.27 229.45 56.20 232.70C57.13 235.95 58.08 241.63 59.00 243.80C59.92 245.97 60.78 243.23 61.70 245.70C62.62 248.17 63.42 254.28 64.50 258.60C65.58 262.92 66.95 270.67 68.20 271.60C69.45 272.53 70.97 267.43 72.00 264.20C73.03 260.97 73.63 252.20 74.40 252.20C75.17 252.20 75.62 257.90 76.60 264.20C77.58 270.50 79.37 283.70 80.30 290.00C81.23 296.30 81.42 303.72 82.20 302.00C82.98 300.28 84.08 285.28 85.00 279.70C85.92 274.12 86.63 271.12 87.70 268.50C88.77 265.88 90.32 263.68 91.40 264.00C92.48 264.32 93.10 268.07 94.20 270.40C95.30 272.73 96.77 275.23 98.00 278.00C99.23 280.77 100.86 284.76 101.60 287.00C102.34 289.24 101.77 288.86 102.46 291.42C103.15 293.98 104.65 299.06 105.74 302.34C106.83 305.61 107.92 310.34 109.01 311.07C110.10 311.80 111.38 306.34 112.29 306.70C113.20 307.07 113.64 310.71 114.47 313.25C115.30 315.80 116.26 319.44 117.28 321.99C118.29 324.53 119.28 327.45 120.55 328.54C121.82 329.63 123.46 328.90 124.92 328.54C126.37 328.17 128.01 328.90 129.28 326.35C130.56 323.81 131.65 322.71 132.56 313.25C133.47 303.79 134.01 283.05 134.74 269.59C135.47 256.12 136.31 238.29 136.93 232.47C137.54 226.64 137.91 224.83 138.45 234.65C139.00 244.48 139.47 285.60 140.20 291.42C140.93 297.24 141.91 271.40 142.82 269.59C143.73 267.77 144.64 279.41 145.66 280.50C146.68 281.59 147.84 274.68 148.93 276.14C150.03 277.59 151.30 284.14 152.21 289.24C153.12 294.33 153.30 302.34 154.39 306.70C155.48 311.07 157.67 312.16 158.76 315.44C159.85 318.71 160.19 324.53 160.94 326.35C161.70 328.17 162.16 325.99 163.28 326.35C164.39 326.72 166.37 329.63 167.64 328.54C168.92 327.45 169.83 327.08 170.92 319.80C172.01 312.53 173.17 294.69 174.19 284.87C175.21 275.04 176.12 263.03 177.03 260.85C177.94 258.67 178.67 272.50 179.65 271.77C180.63 271.04 181.91 257.58 182.93 256.48C183.94 255.39 184.85 261.94 185.76 265.22C186.67 268.49 187.40 269.95 188.38 276.14C189.37 282.32 190.57 294.69 191.66 302.34C192.75 309.98 193.66 317.26 194.93 321.99C196.21 326.72 197.12 329.26 199.30 330.72C201.48 332.18 206.42 330.72 208.03 330.72C209.65 330.72 208.84 330.72 209.00 330.72" stroke="#452c91"/>
<path d="M18.00 324.17C18.73 324.72 20.91 327.08 22.37 327.45C23.82 327.81 25.28 326.35 26.73 326.35C28.19 326.35 29.83 328.90 31.10 327.45C32.37 325.99 33.44 322.53 34.38 317.62C35.31 312.71 36.00 303.10 36.70 298.00C37.40 292.90 37.98 289.75 38.60 287.00C39.22 284.25 39.78 283.75 40.40 281.50C41.02 279.25 41.37 278.25 42.30 273.50C43.23 268.75 44.92 261.20 46.00 253.00C47.08 244.80 48.03 228.62 48.80 224.30C49.57 219.98 49.98 224.15 50.60 227.10C51.22 230.05 51.57 237.98 52.50 242.00C53.43 246.02 55.12 249.03 56.20 251.20C57.28 253.37 58.08 255.00 59.00 255.00C59.92 255.00 60.78 249.67 61.70 251.20C62.62 252.73 63.42 260.80 64.50 264.20C65.58 267.60 67.27 269.28 68.20 271.60C69.13 273.92 69.47 278.40 70.10 278.10C70.73 277.80 71.38 273.35 72.00 269.80C72.62 266.25 73.18 258.35 73.80 256.80C74.42 255.25 74.77 256.07 75.70 260.50C76.63 264.93 78.32 276.48 79.40 283.40C80.48 290.32 81.27 302.62 82.20 302.00C83.13 301.38 84.23 284.65 85.00 279.70C85.77 274.75 86.03 271.17 86.80 272.30C87.57 273.43 88.67 285.68 89.60 286.50C90.53 287.32 91.32 279.98 92.40 277.20C93.48 274.42 94.87 269.17 96.10 269.80C97.33 270.43 98.88 277.63 99.80 281.00C100.72 284.37 101.23 287.90 101.60 290.00C101.97 292.10 101.41 291.91 102.03 293.60C102.64 295.29 104.21 297.97 105.30 300.15C106.39 302.34 107.48 306.34 108.58 306.70C109.67 307.07 110.94 301.97 111.85 302.34C112.76 302.70 113.31 306.34 114.03 308.89C114.76 311.43 115.46 314.71 116.18 317.62C116.91 320.53 117.46 324.53 118.37 326.35C119.28 328.17 120.55 327.99 121.64 328.54C122.73 329.08 123.83 329.81 124.92 329.63C126.01 329.45 127.10 329.45 128.19 327.45C129.28 325.44 130.56 325.44 131.47 317.62C132.38 309.80 132.92 296.73 133.65 280.50C134.38 264.27 135.18 228.61 135.83 220.24C136.49 211.87 137.03 223.88 137.58 230.28C138.13 236.69 138.67 248.84 139.11 258.67C139.55 268.49 139.66 287.05 140.20 289.24C140.75 291.42 141.66 273.59 142.38 271.77C143.11 269.95 143.66 277.95 144.57 278.32C145.48 278.68 146.75 272.50 147.84 273.95C148.93 275.41 150.21 282.32 151.12 287.05C152.03 291.78 152.21 298.33 153.30 302.34C154.39 306.34 156.39 307.43 157.67 311.07C158.94 314.71 160.19 321.99 160.94 324.17C161.70 326.35 161.43 323.62 162.18 324.17C162.94 324.72 164.37 327.08 165.46 327.45C166.55 327.81 167.64 328.72 168.73 326.35C169.83 323.99 170.92 320.90 172.01 313.25C173.10 305.61 174.37 288.87 175.28 280.50C176.19 272.13 176.67 264.85 177.47 263.03C178.27 261.22 179.25 272.68 180.09 269.59C180.92 266.49 181.65 245.57 182.49 244.48C183.33 243.38 184.20 261.58 185.11 263.03C186.02 264.49 187.04 250.30 187.95 253.21C188.86 256.12 189.77 271.59 190.57 280.50C191.37 289.42 191.84 299.43 192.75 306.70C193.66 313.98 194.93 320.35 196.03 324.17C197.12 327.99 198.03 328.54 199.30 329.63C200.57 330.72 202.21 330.72 203.67 330.72C205.12 330.72 207.15 329.81 208.03 329.63C208.92 329.45 208.84 329.63 209.00 329.63" stroke="#8e3cb4"/>
</g>
<g clip-path="url(#clipD)" fill="none" stroke-width="1.3" stroke-linejoin="round">
<path d="M241.50 244.37C242.08 244.37 243.64 244.24 245.00 244.37C246.36 244.50 248.09 244.88 249.64 245.14C251.18 245.40 252.73 245.91 254.27 245.91C255.82 245.91 257.11 245.27 258.91 245.14C260.71 245.01 263.03 245.01 265.09 245.14C267.15 245.27 269.21 245.65 271.28 245.91C273.34 246.17 275.40 246.30 277.46 246.68C279.52 247.07 281.58 247.59 283.64 248.23C285.70 248.87 288.02 250.03 289.82 250.55C291.63 251.06 292.91 251.71 294.46 251.32C296.00 250.94 297.55 249.26 299.10 248.23C300.64 247.20 302.19 245.14 303.73 245.14C305.28 245.14 306.82 248.10 308.37 248.23C309.91 248.36 311.46 246.56 313.01 245.91C314.55 245.27 316.54 244.17 317.64 244.37C318.75 244.56 318.53 245.87 319.64 247.09C320.74 248.32 322.73 251.73 324.27 251.73C325.82 251.73 327.36 248.51 328.91 247.09C330.46 245.68 331.74 243.23 333.55 243.23C335.35 243.23 337.67 246.32 339.73 247.09C341.79 247.87 343.85 247.35 345.91 247.87C347.97 248.38 350.29 249.67 352.09 250.19C353.90 250.70 355.19 251.47 356.73 250.96C358.28 250.44 359.82 248.00 361.37 247.09C362.91 246.19 364.46 245.68 366.00 245.55C367.55 245.42 369.10 245.94 370.64 246.32C372.19 246.71 373.73 247.74 375.28 247.87C376.82 248.00 378.37 247.61 379.91 247.09C381.46 246.58 382.57 245.24 384.55 244.78C386.54 244.31 389.47 244.21 391.82 244.32C394.17 244.43 396.36 245.64 398.64 245.45C400.91 245.27 403.56 243.94 405.45 243.18C407.35 242.42 408.48 240.34 410.00 240.91C411.52 241.48 413.03 244.32 414.55 246.59C416.06 248.86 417.58 253.60 419.09 254.55C420.61 255.49 421.74 253.60 423.64 252.27C425.53 250.95 428.18 247.92 430.45 246.59C432.73 245.27 435.00 244.70 437.27 244.32C439.55 243.94 441.82 244.32 444.09 244.32C446.36 244.32 448.83 244.30 450.91 244.32C452.99 244.34 454.52 244.41 456.56 244.43C458.59 244.44 460.93 244.56 463.11 244.43C465.30 244.29 467.76 243.47 469.67 243.61C471.58 243.74 472.95 244.43 474.59 245.25C476.23 246.07 477.87 247.43 479.51 248.52C481.15 249.62 482.79 251.26 484.43 251.80C486.07 252.35 487.70 251.94 489.34 251.80C490.98 251.67 492.62 251.26 494.26 250.98C495.90 250.71 497.54 251.12 499.18 250.16C500.82 249.21 502.46 246.34 504.10 245.25C505.74 244.15 507.10 243.74 509.02 243.61C510.93 243.47 513.39 243.74 515.57 244.43C517.76 245.11 520.38 247.02 522.13 247.70C523.88 248.39 525.41 248.39 526.07 248.52" stroke="#2ea043"/>
<path d="M241.50 247.46C242.08 247.46 243.64 247.72 245.00 247.46C246.36 247.20 248.09 246.43 249.64 245.91C251.18 245.40 252.73 245.65 254.27 244.37C255.82 243.08 257.49 239.34 258.91 238.18C260.33 237.02 261.49 235.61 262.77 237.41C264.06 239.21 265.35 245.53 266.64 249.00C267.93 252.48 269.47 256.34 270.50 258.28C271.53 260.21 271.92 261.11 272.82 260.60C273.72 260.08 274.75 258.28 275.91 255.19C277.07 252.09 278.75 244.50 279.78 242.05C280.81 239.60 281.19 239.86 282.09 240.50C283.00 241.15 283.90 243.46 285.19 245.91C286.47 248.36 288.53 252.87 289.82 255.19C291.11 257.50 291.88 260.08 292.91 259.82C293.94 259.56 294.85 256.60 296.00 253.64C297.16 250.68 298.84 244.37 299.87 242.05C300.90 239.73 301.41 239.09 302.19 239.73C302.96 240.37 303.48 243.98 304.51 245.91C305.54 247.84 307.08 250.81 308.37 251.32C309.66 251.84 310.95 249.78 312.23 249.00C313.52 248.23 314.86 247.39 316.10 246.68C317.33 245.98 318.27 245.48 319.64 244.78C321.00 244.07 322.73 243.36 324.27 242.46C325.82 241.56 327.62 239.88 328.91 239.37C330.20 238.85 330.71 238.59 332.00 239.37C333.29 240.14 335.09 242.33 336.64 244.00C338.18 245.68 339.73 248.38 341.28 249.41C342.82 250.44 344.37 249.93 345.91 250.19C347.46 250.44 349.00 250.31 350.55 250.96C352.09 251.60 353.64 253.92 355.19 254.05C356.73 254.18 358.28 252.76 359.82 251.73C361.37 250.70 362.91 249.03 364.46 247.87C366.00 246.71 367.55 245.29 369.10 244.78C370.64 244.26 372.19 244.52 373.73 244.78C375.28 245.03 376.82 246.19 378.37 246.32C379.91 246.45 381.46 246.19 383.01 245.55C384.55 244.90 386.55 243.61 387.64 242.46C388.73 241.31 388.47 239.65 389.55 238.64C390.62 237.62 392.77 236.36 394.09 236.36C395.42 236.36 396.36 235.61 397.50 238.64C398.64 241.67 399.77 249.81 400.91 254.55C402.05 259.28 403.18 267.05 404.32 267.05C405.45 267.05 406.59 259.66 407.73 254.55C408.86 249.43 410.00 238.64 411.14 236.36C412.27 234.09 413.41 238.26 414.55 240.91C415.68 243.56 416.82 250.19 417.95 252.27C419.09 254.36 420.04 254.17 421.36 253.41C422.69 252.65 424.39 250.00 425.91 247.73C427.42 245.45 429.13 241.86 430.45 239.77C431.78 237.69 432.73 234.28 433.86 235.23C435.00 236.17 435.95 241.48 437.27 245.45C438.60 249.43 440.49 257.58 441.82 259.09C443.14 260.61 443.90 256.82 445.23 254.55C446.55 252.27 447.34 247.41 449.77 245.45C452.21 243.49 457.34 243.37 459.84 242.79C462.33 242.21 462.98 242.65 464.75 241.97C466.53 241.28 468.85 239.92 470.49 238.69C472.13 237.46 473.36 233.91 474.59 234.59C475.82 235.27 476.78 238.14 477.87 242.79C478.96 247.43 480.11 257.40 481.15 262.46C482.19 267.51 483.14 272.84 484.10 273.11C485.05 273.39 485.87 268.61 486.89 264.10C487.90 259.59 489.07 250.44 490.16 246.07C491.26 241.69 492.35 239.10 493.44 237.87C494.54 236.64 495.49 237.87 496.72 238.69C497.95 239.51 499.32 241.28 500.82 242.79C502.32 244.29 504.10 246.89 505.74 247.70C507.38 248.52 509.02 248.25 510.66 247.70C512.30 247.16 513.93 244.70 515.57 244.43C517.21 244.15 518.74 245.38 520.49 246.07C522.24 246.75 525.14 248.11 526.07 248.52" stroke="#ec4f33"/>
<path d="M241.50 243.59C242.08 243.59 243.64 243.59 245.00 243.59C246.36 243.59 248.09 243.21 249.64 243.59C251.18 243.98 252.73 246.94 254.27 245.91C255.82 244.88 257.62 239.21 258.91 237.41C260.20 235.61 260.97 234.71 262.00 235.09C263.03 235.48 263.80 238.18 265.09 239.73C266.38 241.28 268.18 243.08 269.73 244.37C271.28 245.65 272.95 246.43 274.37 247.46C275.78 248.49 276.94 249.65 278.23 250.55C279.52 251.45 280.68 252.09 282.09 252.87C283.51 253.64 285.31 254.03 286.73 255.19C288.15 256.34 289.56 258.28 290.60 259.82C291.63 261.37 292.01 264.46 292.91 264.46C293.82 264.46 294.85 262.91 296.00 259.82C297.16 256.73 298.84 249.13 299.87 245.91C300.90 242.69 301.41 240.63 302.19 240.50C302.96 240.37 303.48 243.34 304.51 245.14C305.54 246.94 307.08 250.94 308.37 251.32C309.66 251.71 311.07 250.55 312.23 247.46C313.39 244.37 314.35 234.90 315.32 232.77C316.30 230.65 317.11 231.31 318.09 234.73C319.07 238.15 320.28 248.12 321.18 253.28C322.08 258.43 322.73 262.81 323.50 265.64C324.27 268.48 325.05 270.54 325.82 270.28C326.59 270.02 327.36 268.22 328.14 264.10C328.91 259.97 329.68 251.73 330.46 245.55C331.23 239.37 331.87 230.87 332.77 227.00C333.68 223.14 334.84 221.85 335.87 222.36C336.90 222.88 337.93 225.97 338.96 230.09C339.99 234.21 340.89 242.20 342.05 247.09C343.21 251.99 344.62 257.91 345.91 259.46C347.20 261.00 348.36 257.91 349.78 256.37C351.19 254.82 352.87 251.99 354.41 250.19C355.96 248.38 357.38 246.71 359.05 245.55C360.72 244.39 362.78 244.26 364.46 243.23C366.13 242.20 367.81 240.01 369.10 239.37C370.38 238.72 371.16 239.11 372.19 239.37C373.22 239.62 374.25 240.14 375.28 240.91C376.31 241.68 377.08 242.72 378.37 244.00C379.66 245.29 381.72 246.84 383.01 248.64C384.29 250.44 385.20 255.73 386.10 254.82C387.00 253.91 387.46 246.07 388.41 243.18C389.36 240.29 390.68 237.88 391.82 237.50C392.95 237.12 394.09 240.15 395.23 240.91C396.36 241.67 397.31 242.42 398.64 242.05C399.96 241.67 401.67 241.10 403.18 238.64C404.70 236.17 406.40 231.82 407.73 227.27C409.05 222.73 410.19 210.98 411.14 211.36C412.08 211.74 412.65 220.08 413.41 229.55C414.17 239.02 414.81 256.63 415.68 268.18C416.55 279.73 417.77 294.32 418.64 298.86C419.51 303.41 420.08 302.46 420.91 295.45C421.74 288.45 422.80 267.80 423.64 256.82C424.47 245.83 425.15 236.36 425.91 229.55C426.67 222.73 427.42 215.15 428.18 215.91C428.94 216.67 429.51 227.27 430.45 234.09C431.40 240.91 432.54 252.46 433.86 256.82C435.19 261.17 436.89 260.98 438.41 260.23C439.92 259.47 441.44 254.73 442.95 252.27C444.47 249.81 445.98 246.97 447.50 245.45C449.02 243.94 450.26 244.31 452.05 243.18C453.83 242.05 456.63 238.75 458.20 238.69C459.77 238.62 460.25 243.47 461.48 242.79C462.70 242.10 464.34 237.32 465.57 234.59C466.80 231.86 467.90 226.94 468.85 226.39C469.81 225.85 470.36 226.39 471.31 231.31C472.27 236.23 473.50 249.89 474.59 255.90C475.68 261.91 476.78 266.01 477.87 267.38C478.96 268.74 480.05 266.42 481.15 264.10C482.24 261.78 483.47 255.36 484.43 253.44C485.38 251.53 485.93 250.85 486.89 252.62C487.84 254.40 489.21 261.64 490.16 264.10C491.12 266.56 491.67 269.02 492.62 267.38C493.58 265.74 494.81 259.45 495.90 254.26C496.99 249.07 498.22 239.78 499.18 236.23C500.14 232.68 500.68 232.40 501.64 232.95C502.60 233.50 503.69 237.60 504.92 239.51C506.15 241.42 507.51 243.47 509.02 244.43C510.52 245.38 512.30 245.25 513.93 245.25C515.57 245.25 517.49 244.15 518.85 244.43C520.22 244.70 520.93 246.20 522.13 246.89C523.33 247.57 525.41 248.25 526.07 248.52" stroke="#452c91"/>
<path d="M241.50 245.14C242.08 245.14 243.64 245.27 245.00 245.14C246.36 245.01 248.09 244.11 249.64 244.37C251.18 244.62 252.73 247.97 254.27 246.68C255.82 245.40 257.62 238.70 258.91 236.64C260.20 234.58 260.71 232.77 262.00 234.32C263.29 235.87 265.22 242.43 266.64 245.91C268.06 249.39 269.34 254.28 270.50 255.19C271.66 256.09 272.69 254.41 273.59 251.32C274.50 248.23 275.27 240.24 275.91 236.64C276.56 233.03 276.81 229.94 277.46 229.68C278.10 229.43 278.87 230.84 279.78 235.09C280.68 239.34 281.97 249.78 282.87 255.19C283.77 260.60 284.28 266.00 285.19 267.55C286.09 269.10 287.25 266.13 288.28 264.46C289.31 262.78 290.21 259.82 291.37 257.50C292.53 255.19 293.94 253.12 295.23 250.55C296.52 247.97 298.07 243.85 299.10 242.05C300.13 240.24 300.51 238.83 301.41 239.73C302.32 240.63 303.35 245.53 304.51 247.46C305.66 249.39 306.95 253.12 308.37 251.32C309.79 249.52 311.59 240.24 313.01 236.64C314.42 233.03 316.02 230.52 316.87 229.68C317.72 228.85 317.50 228.48 318.09 231.64C318.68 234.80 319.64 243.49 320.41 248.64C321.18 253.79 321.96 259.07 322.73 262.55C323.50 266.03 324.27 269.76 325.05 269.51C325.82 269.25 326.46 265.77 327.36 261.00C328.27 256.24 329.55 247.09 330.46 240.91C331.36 234.73 332.13 227.39 332.77 223.91C333.42 220.43 333.68 220.05 334.32 220.05C334.96 220.05 335.74 220.43 336.64 223.91C337.54 227.39 338.70 235.24 339.73 240.91C340.76 246.58 341.92 255.60 342.82 257.91C343.72 260.23 344.37 257.66 345.14 254.82C345.91 251.99 346.68 244.13 347.46 240.91C348.23 237.69 349.00 235.24 349.78 235.50C350.55 235.76 351.32 238.72 352.09 242.46C352.87 246.19 353.64 254.05 354.41 257.91C355.19 261.78 355.83 265.38 356.73 265.64C357.63 265.90 358.79 262.81 359.82 259.46C360.85 256.11 361.88 249.80 362.91 245.55C363.94 241.30 365.10 235.37 366.00 233.96C366.91 232.54 367.55 234.34 368.32 237.05C369.10 239.75 369.74 247.74 370.64 250.19C371.54 252.63 372.44 252.25 373.73 251.73C375.02 251.22 376.82 247.35 378.37 247.09C379.91 246.84 381.72 248.12 383.01 250.19C384.29 252.25 385.20 261.01 386.10 259.46C387.00 257.91 387.46 244.57 388.41 240.91C389.36 237.25 390.68 237.69 391.82 237.50C392.95 237.31 394.09 239.39 395.23 239.77C396.36 240.15 397.31 240.72 398.64 239.77C399.96 238.83 401.86 238.45 403.18 234.09C404.51 229.73 405.57 218.94 406.59 213.64C407.61 208.33 408.37 201.14 409.32 202.27C410.27 203.41 411.48 209.47 412.27 220.45C413.07 231.44 413.37 253.11 414.09 268.18C414.81 283.26 415.87 305.61 416.59 310.91C417.31 316.21 417.61 307.50 418.41 300.00C419.20 292.50 420.49 278.03 421.36 265.91C422.23 253.79 422.88 234.47 423.64 227.27C424.39 220.08 425.15 221.59 425.91 222.73C426.67 223.86 427.42 229.17 428.18 234.09C428.94 239.02 429.70 247.73 430.45 252.27C431.21 256.82 431.78 261.74 432.73 261.36C433.67 260.98 435.00 252.84 436.14 250.00C437.27 247.16 438.41 244.32 439.55 244.32C440.68 244.32 441.82 249.24 442.95 250.00C444.09 250.76 445.04 250.38 446.36 248.86C447.69 247.35 449.21 242.06 450.91 240.91C452.61 239.76 455.07 241.65 456.56 241.97C458.05 242.28 458.74 243.47 459.84 242.79C460.93 242.10 462.02 240.05 463.11 237.87C464.21 235.68 465.30 232.40 466.39 229.67C467.49 226.94 468.72 221.75 469.67 221.48C470.63 221.20 471.31 223.11 472.13 228.03C472.95 232.95 473.77 244.97 474.59 250.98C475.41 256.99 476.23 262.46 477.05 264.10C477.87 265.74 478.55 263.01 479.51 260.82C480.46 258.63 481.83 252.90 482.79 250.98C483.74 249.07 484.43 247.98 485.25 249.34C486.07 250.71 486.89 255.63 487.70 259.18C488.52 262.73 489.21 270.66 490.16 270.66C491.12 270.66 492.35 263.55 493.44 259.18C494.54 254.81 495.63 249.07 496.72 244.43C497.81 239.78 499.04 234.86 500.00 231.31C500.96 227.76 501.64 223.66 502.46 223.11C503.28 222.57 504.10 225.30 504.92 228.03C505.74 230.77 506.42 236.78 507.38 239.51C508.33 242.24 509.29 243.47 510.66 244.43C512.02 245.38 513.93 245.11 515.57 245.25C517.21 245.38 518.74 244.70 520.49 245.25C522.24 245.79 525.14 247.98 526.07 248.52" stroke="#8e3cb4"/>
</g>
<path d="M290.5 276.0 L290.5 283.5" stroke="#ec4f33" stroke-width="1.1" stroke-dasharray="1.1 1.5" fill="none"/>
<path d="M316.0 255.0 L318.0 262.0" stroke="#ec4f33" stroke-width="1.1" stroke-dasharray="1.1 1.5" fill="none"/>
<path d="M326.0 282.0 L326.0 302.0" stroke="#2ea043" stroke-width="1.1" stroke-dasharray="1.1 1.5" fill="none"/>
<path d="M433.0 258.0 L433.0 280.0" stroke="#2ea043" stroke-width="1.1" stroke-dasharray="1.1 1.5" fill="none"/>
<path d="M436.0 246.0 L448.0 232.0" stroke="#2ea043" stroke-width="1.1" stroke-dasharray="1.1 1.5" fill="none"/>
<path d="M472.0 275.0 L479.0 267.0" stroke="#2ea043" stroke-width="1.1" stroke-dasharray="1.1 1.5" fill="none"/>
<path d="M486.0 266.0 L486.0 275.0" stroke="#ec4f33" stroke-width="1.1" stroke-dasharray="1.1 1.5" fill="none"/>
<path d="M483.0 290.0 L483.0 298.0" stroke="#8e3cb4" stroke-width="1.1" stroke-dasharray="1.1 1.5" fill="none"/>
<path d="M491.0 296.0 L491.0 305.0" stroke="#452c91" stroke-width="1.1" stroke-dasharray="1.1 1.5" fill="none"/>
<text transform="translate(264.30,270.30) rotate(-90)" y="3.24" class="an" fill="#8e3cb4">1161</text>
<text transform="translate(272.05,273.35) rotate(-90)" y="3.24" class="an" fill="#ec4f33">1158</text>
<text transform="translate(278.40,267.75) rotate(-90)" y="3.24" class="an" fill="#452c91">1146</text>
<text transform="translate(283.85,280.65) rotate(-90)" y="3.24" class="an" fill="#8e3cb4">1139</text>
<text transform="translate(291.10,295.85) rotate(-90)" y="3.24" class="an" fill="#ec4f33">1128</text>
<text transform="translate(296.90,275.75) rotate(-90)" y="3.24" class="an" fill="#452c91">1126</text>
<text transform="translate(301.40,262.80) rotate(-90)" y="3.24" class="an" fill="#2ea043">1125</text>
<text transform="translate(308.00,262.90) rotate(-90)" y="3.24" class="an" fill="#111111">1105</text>
<text transform="translate(315.30,274.15) rotate(-90)" y="3.24" class="an" fill="#ec4f33">1086</text>
<text transform="translate(322.15,283.35) rotate(-90)" y="3.24" class="an" fill="#8e3cb4">1080</text>
<text transform="translate(327.40,281.45) rotate(-90)" y="3.24" class="an" fill="#452c91">1080</text>
<text transform="translate(326.25,315.25) rotate(-90)" y="3.24" class="an" fill="#2ea043">1084</text>
<text transform="translate(342.05,271.80) rotate(-90)" y="3.24" class="an" fill="#8e3cb4">1058</text>
<text transform="translate(350.15,272.25) rotate(-90)" y="3.24" class="an" fill="#452c91">1049</text>
<text transform="translate(357.50,279.55) rotate(-90)" y="3.24" class="an" fill="#8e3cb4">1037</text>
<text transform="translate(366.00,272.65) rotate(-90)" y="3.24" class="an" fill="#2ea043">1036</text>
<text transform="translate(371.40,256.30) rotate(-90)" y="3.24" class="an" fill="#2ea043">1017</text>
<text transform="translate(382.60,272.50) rotate(-90)" y="3.24" class="an" fill="#111111">1000</text>
<text transform="translate(389.25,262.35) rotate(-90)" y="3.24" class="an" fill="#452c91">996</text>
<text transform="translate(403.65,277.65) rotate(-90)" y="3.24" class="an" fill="#ec4f33">970</text>
<text transform="translate(416.75,321.00) rotate(-90)" y="3.24" class="an" fill="#8e3cb4">953</text>
<text transform="translate(425.25,309.00) rotate(-90)" y="3.24" class="an" fill="#452c91">948</text>
<text transform="translate(432.85,291.50) rotate(-90)" y="3.24" class="an" fill="#2ea043">948</text>
<text transform="translate(442.50,298.50) rotate(-90)" y="3.24" class="an" fill="#ec4f33">946</text>
<text transform="translate(428.90,263.30) rotate(-90)" y="3.24" class="an" fill="#452c91">935</text>
<text transform="translate(434.20,274.25) rotate(-90)" y="3.24" class="an" fill="#8e3cb4">926</text>
<text transform="translate(442.60,271.80) rotate(-90)" y="3.24" class="an" fill="#8e3cb4">920</text>
<text transform="translate(453.05,284.50) rotate(-90)" y="3.24" class="an" fill="#ec4f33">915</text>
<text transform="translate(450.90,222.20) rotate(-90)" y="3.24" class="an" fill="#2ea043">923</text>
<text transform="translate(466.20,285.85) rotate(-90)" y="3.24" class="an" fill="#2ea043">855</text>
<text transform="translate(476.70,279.70) rotate(-90)" y="3.24" class="an" fill="#8e3cb4">867</text>
<text transform="translate(486.15,282.15) rotate(-90)" y="3.24" class="an" fill="#ec4f33">856</text>
<text transform="translate(481.50,307.00) rotate(-90)" y="3.24" class="an" fill="#8e3cb4">860</text>
<text transform="translate(489.75,309.95) rotate(-90)" y="3.24" class="an" fill="#452c91">848</text>
<text transform="translate(494.50,274.35) rotate(-90)" y="3.24" class="an" fill="#452c91">847</text>
<text transform="translate(502.15,270.30) rotate(-90)" y="3.24" class="an" fill="#8e3cb4">839</text>
<text transform="translate(505.70,258.50) rotate(-90)" y="3.24" class="an" fill="#2ea043">836</text>
<g clip-path="url(#clipE)" fill="none" stroke-width="1.3" stroke-linejoin="round">
<path d="M18.00 518.42C19.66 518.00 24.65 516.55 27.98 515.92C31.30 515.30 34.63 514.88 37.95 514.68C41.28 514.47 44.60 514.68 47.93 514.68C51.25 514.68 54.58 515.09 57.90 514.68C61.23 514.26 64.55 513.43 67.88 512.18C71.20 510.94 74.73 508.86 77.85 507.19C80.97 505.53 84.08 502.41 86.58 502.21C89.07 502.00 90.53 505.95 92.81 505.95C95.10 505.95 97.80 503.66 100.29 502.21C102.79 500.75 105.70 497.84 107.78 497.22C109.85 496.60 111.64 497.84 112.76 498.47C113.88 499.09 113.79 500.34 114.49 500.96C115.20 501.58 115.53 501.38 116.99 502.21C118.44 503.04 120.94 505.12 123.22 505.95C125.51 506.78 128.00 506.99 130.70 507.19C133.40 507.40 136.73 507.40 139.43 507.19C142.13 506.99 144.42 506.45 146.91 505.95C149.41 505.45 151.90 503.99 154.39 504.20C156.89 504.41 159.38 506.07 161.88 507.19C164.37 508.32 166.86 509.90 169.36 510.94C171.85 511.97 174.34 512.81 176.84 513.43C179.33 514.05 181.83 514.26 184.32 514.68C186.81 515.09 189.31 515.51 191.80 515.92C194.29 516.34 196.79 516.75 199.28 517.17C201.78 517.59 205.23 518.21 206.76 518.42C208.30 518.62 208.21 518.42 208.50 518.42" stroke="#2ea043"/>
<path d="M18.00 517.17C19.25 516.96 22.99 516.34 25.48 515.92C27.98 515.51 30.47 514.88 32.96 514.68C35.46 514.47 37.95 515.30 40.44 514.68C42.94 514.05 45.43 512.60 47.93 510.94C50.42 509.27 53.12 506.99 55.41 504.70C57.69 502.41 59.77 498.88 61.64 497.22C63.51 495.56 64.76 494.93 66.63 494.73C68.50 494.52 70.78 495.35 72.86 495.97C74.94 496.60 77.23 497.43 79.10 498.47C80.97 499.51 82.42 500.75 84.08 502.21C85.75 503.66 87.41 505.53 89.07 507.19C90.73 508.86 92.40 510.94 94.06 512.18C95.72 513.43 97.38 513.84 99.05 514.68C100.71 515.51 102.16 516.96 104.03 517.17C105.91 517.38 108.11 516.13 110.27 515.92C112.43 515.71 115.04 516.13 116.99 515.92C118.94 515.71 120.31 515.09 121.98 514.68C123.64 514.26 125.30 514.05 126.96 513.43C128.63 512.81 130.29 511.56 131.95 510.94C133.61 510.31 134.86 510.10 136.94 509.69C139.02 509.27 141.93 509.06 144.42 508.44C146.91 507.82 149.41 506.78 151.90 505.95C154.39 505.12 156.89 503.87 159.38 503.45C161.88 503.04 164.58 503.66 166.86 503.45C169.15 503.25 171.23 501.58 173.10 502.21C174.97 502.83 176.42 505.95 178.08 507.19C179.75 508.44 181.41 508.86 183.07 509.69C184.73 510.52 186.19 511.35 188.06 512.18C189.93 513.01 192.01 513.84 194.29 514.68C196.58 515.51 199.70 516.55 201.78 517.17C203.85 517.79 205.64 518.21 206.76 518.42C207.88 518.62 208.21 518.42 208.50 518.42" stroke="#ec4f33"/>
<path d="M18.00 518.42C19.25 518.00 22.99 516.75 25.48 515.92C27.98 515.09 30.88 513.43 32.96 513.43C35.04 513.43 36.29 515.71 37.95 515.92C39.61 516.13 40.86 514.68 42.94 514.68C45.02 514.68 47.93 515.71 50.42 515.92C52.91 516.13 55.41 516.13 57.90 515.92C60.39 515.71 63.30 516.13 65.38 514.68C67.46 513.22 68.71 510.52 70.37 507.19C72.03 503.87 73.69 498.05 75.36 494.73C77.02 491.40 78.68 488.91 80.34 487.24C82.01 485.58 83.67 485.17 85.33 484.75C86.99 484.33 88.66 486.00 90.32 484.75C91.98 483.50 93.64 481.43 95.31 477.27C96.97 473.11 98.63 466.05 100.29 459.81C101.96 453.58 103.41 445.27 105.28 439.86C107.15 434.46 109.98 425.73 111.52 427.39C113.05 429.06 113.37 441.94 114.49 449.84C115.61 457.73 116.78 467.29 118.23 474.78C119.69 482.26 121.56 490.15 123.22 494.73C124.88 499.30 126.55 500.54 128.21 502.21C129.87 503.87 131.33 504.70 133.20 504.70C135.07 504.70 137.15 503.04 139.43 502.21C141.72 501.38 144.63 500.96 146.91 499.71C149.20 498.47 151.28 495.97 153.15 494.73C155.02 493.48 156.68 491.82 158.13 492.23C159.59 492.65 160.42 494.73 161.88 497.22C163.33 499.71 165.20 504.29 166.86 507.19C168.53 510.10 170.19 512.81 171.85 514.68C173.51 516.55 174.76 517.59 176.84 518.42C178.92 519.25 181.83 520.08 184.32 519.66C186.81 519.25 189.31 516.34 191.80 515.92C194.29 515.51 196.79 516.75 199.28 517.17C201.78 517.59 205.23 518.21 206.76 518.42C208.30 518.62 208.21 518.42 208.50 518.42" stroke="#452c91"/>
<path d="M18.00 518.42C19.25 518.21 22.99 517.59 25.48 517.17C27.98 516.75 30.47 516.34 32.96 515.92C35.46 515.51 37.95 514.68 40.44 514.68C42.94 514.68 45.43 515.51 47.93 515.92C50.42 516.34 53.12 516.96 55.41 517.17C57.69 517.38 59.56 517.59 61.64 517.17C63.72 516.75 66.00 516.75 67.88 514.68C69.75 512.60 71.20 509.69 72.86 504.70C74.53 499.71 76.40 492.23 77.85 484.75C79.31 477.27 80.55 468.13 81.59 459.81C82.63 451.50 83.13 440.69 84.08 434.88C85.04 429.06 86.29 424.90 87.33 424.90C88.37 424.90 89.20 428.64 90.32 434.88C91.44 441.11 92.90 456.28 94.06 462.31C95.22 468.33 96.26 471.45 97.30 471.03C98.34 470.62 99.17 469.16 100.29 459.81C101.42 450.46 102.87 426.35 104.03 414.93C105.20 403.50 106.24 392.90 107.28 391.23C108.32 389.57 109.35 397.68 110.27 404.95C111.18 412.22 111.44 425.73 112.76 434.88C114.09 444.02 116.70 452.33 118.23 459.81C119.77 467.29 120.73 474.36 121.98 479.76C123.22 485.17 124.47 490.99 125.72 492.23C126.96 493.48 128.21 490.57 129.46 487.24C130.70 483.92 131.95 475.81 133.20 472.28C134.44 468.75 135.69 465.63 136.94 466.05C138.18 466.46 139.43 470.41 140.68 474.78C141.93 479.14 142.96 486.83 144.42 492.23C145.87 497.64 147.74 503.87 149.41 507.19C151.07 510.52 152.52 511.56 154.39 512.18C156.26 512.81 158.55 510.52 160.63 510.94C162.71 511.35 164.58 513.22 166.86 514.68C169.15 516.13 172.27 519.66 174.34 519.66C176.42 519.66 177.67 516.75 179.33 514.68C180.99 512.60 182.86 508.65 184.32 507.19C185.77 505.74 186.81 505.12 188.06 505.95C189.31 506.78 190.14 510.31 191.80 512.18C193.46 514.05 195.54 516.13 198.03 517.17C200.53 518.21 205.02 518.21 206.76 518.42C208.51 518.62 208.21 518.42 208.50 518.42" stroke="#8e3cb4"/>
</g>
<g clip-path="url(#clipF)" fill="none" stroke-width="1.3" stroke-linejoin="round">
<path d="M241.30 435.56C241.42 435.56 239.91 435.36 242.00 435.56C244.09 435.75 249.88 436.54 253.82 436.74C257.76 436.93 261.70 436.74 265.64 436.74C269.58 436.74 273.52 436.74 277.46 436.74C281.40 436.74 285.34 436.74 289.28 436.74C293.22 436.74 297.16 436.86 301.10 436.74C305.04 436.62 309.38 436.11 312.92 436.03C316.47 435.95 318.53 435.85 322.38 436.26C326.22 436.68 332.67 438.57 335.99 438.52C339.32 438.48 339.60 436.40 342.36 435.98C345.11 435.56 349.14 435.89 352.53 435.98C355.93 436.06 359.32 436.28 362.71 436.49C366.11 436.70 369.07 437.12 372.89 437.25C376.71 437.38 381.37 437.38 385.61 437.25C389.85 437.12 394.09 436.62 398.34 436.49C402.58 436.36 406.82 436.36 411.06 436.49C415.30 436.62 420.30 437.25 423.78 437.25C427.26 437.25 430.57 436.62 431.92 436.49" stroke="#2ea043"/>
<path d="M241.30 435.56C241.42 435.56 239.91 435.36 242.00 435.56C244.09 435.75 249.88 436.54 253.82 436.74C257.76 436.93 261.70 436.74 265.64 436.74C269.58 436.74 274.31 436.34 277.46 436.74C280.61 437.13 282.19 438.31 284.55 439.10C286.92 439.89 289.28 441.47 291.65 441.47C294.01 441.47 295.98 439.89 298.74 439.10C301.50 438.31 305.04 437.33 308.19 436.74C311.35 436.15 314.50 435.63 317.65 435.56C320.80 435.48 323.84 436.19 327.11 436.26C330.38 436.34 333.88 436.03 337.27 435.98C340.66 435.93 344.05 435.89 347.45 435.98C350.84 436.06 353.38 436.28 357.62 436.49C361.86 436.70 368.23 437.00 372.89 437.25C377.56 437.51 381.37 437.80 385.61 438.02C389.85 438.23 394.52 438.44 398.34 438.52C402.15 438.61 405.12 438.74 408.51 438.52C411.91 438.31 414.79 437.76 418.69 437.25C422.59 436.74 429.72 435.77 431.92 435.47" stroke="#ec4f33"/>
<path d="M241.30 433.19C241.42 433.19 240.70 432.60 242.00 433.19C243.30 433.78 246.73 435.83 249.09 436.74C251.46 437.64 253.82 438.23 256.18 438.63C258.55 439.02 260.91 439.22 263.28 439.10C265.64 438.98 268.00 438.71 270.37 437.92C272.73 437.13 275.29 435.75 277.46 434.37C279.63 432.99 281.40 430.63 283.37 429.65C285.34 428.66 287.31 428.07 289.28 428.46C291.25 428.86 293.42 430.04 295.19 432.01C296.96 433.98 298.54 438.31 299.92 440.28C301.30 442.25 302.09 444.03 303.47 443.83C304.84 443.63 306.62 441.66 308.19 439.10C309.77 436.54 311.35 431.42 312.92 428.46C314.50 425.51 316.07 421.77 317.65 421.37C319.23 420.98 320.80 422.75 322.38 426.10C323.95 429.45 325.69 432.82 327.11 441.47C328.53 450.11 329.42 472.94 330.91 477.96C332.39 482.99 334.30 476.90 335.99 471.60C337.69 466.30 339.39 454.64 341.08 446.16C342.78 437.68 344.48 426.65 346.17 420.71C347.87 414.78 349.57 410.96 351.26 410.53C352.96 410.11 354.44 415.20 356.35 418.17C358.26 421.14 360.38 425.38 362.71 428.35C365.04 431.31 368.01 433.65 370.35 435.98C372.68 438.31 374.59 440.43 376.71 442.34C378.83 444.25 380.95 447.85 383.07 447.43C385.19 447.01 387.10 442.77 389.43 439.80C391.76 436.83 394.73 431.10 397.06 429.62C399.40 428.13 401.30 429.62 403.42 430.89C405.55 432.16 407.67 435.56 409.79 437.25C411.91 438.95 413.82 441.28 416.15 441.07C418.48 440.86 421.15 437.04 423.78 435.98C426.41 434.92 430.57 434.92 431.92 434.71" stroke="#452c91"/>
<path d="M241.30 434.37C241.42 434.37 240.70 433.98 242.00 434.37C243.30 434.77 246.73 436.15 249.09 436.74C251.46 437.33 253.82 437.72 256.18 437.92C258.55 438.12 260.91 438.12 263.28 437.92C265.64 437.72 268.00 437.33 270.37 436.74C272.73 436.15 275.10 435.95 277.46 434.37C279.83 432.80 282.39 430.24 284.55 427.28C286.72 424.33 288.69 419.20 290.46 416.64C292.24 414.08 293.81 411.52 295.19 411.91C296.57 412.31 297.56 414.87 298.74 419.01C299.92 423.14 301.10 429.84 302.28 436.74C303.47 443.63 304.84 454.27 305.83 460.38C306.81 466.49 307.21 472.59 308.19 473.38C309.18 474.17 310.75 470.82 311.74 465.11C312.72 459.39 313.32 446.98 314.10 439.10C314.89 431.22 315.68 423.34 316.47 417.83C317.26 412.31 318.04 407.19 318.83 406.00C319.62 404.82 320.41 406.40 321.20 410.73C321.98 415.07 322.58 422.55 323.56 432.01C324.55 441.47 325.88 456.63 327.11 467.47C328.33 478.31 329.64 494.66 330.91 497.05C332.18 499.43 333.45 491.54 334.72 481.78C335.99 472.03 337.27 452.09 338.54 438.52C339.81 424.95 341.08 408.84 342.36 400.36C343.63 391.87 344.90 387.63 346.17 387.63C347.45 387.63 348.72 393.15 349.99 400.36C351.26 407.57 352.53 421.98 353.81 430.89C355.08 439.80 356.56 448.70 357.62 453.79C358.68 458.88 359.11 462.27 360.17 461.42C361.23 460.58 362.50 453.79 363.98 448.70C365.47 443.61 367.59 435.56 369.07 430.89C370.56 426.23 371.62 421.98 372.89 420.71C374.16 419.44 375.22 420.71 376.71 423.26C378.19 425.80 380.10 433.22 381.80 435.98C383.49 438.74 384.98 440.43 386.89 439.80C388.79 439.16 391.34 434.07 393.25 432.16C395.16 430.25 396.64 428.13 398.34 428.35C400.03 428.56 401.52 431.31 403.42 433.44C405.33 435.56 407.67 440.01 409.79 441.07C411.91 442.13 414.24 440.43 416.15 439.80C418.06 439.16 419.75 438.31 421.24 437.25C422.72 436.19 423.27 433.44 425.05 433.44C426.83 433.44 430.78 436.62 431.92 437.25" stroke="#8e3cb4"/>
</g>
<path d="M367.3 436.0 L367.3 488.0" stroke="#452c91" stroke-width="1.1" stroke-dasharray="1.1 1.5" fill="none"/>
<path d="M336.0 487.0 L340.0 497.0" stroke="#452c91" stroke-width="1.1" stroke-dasharray="1.1 1.5" fill="none"/>
<text transform="translate(289.25,451.50) rotate(-90)" y="3.24" class="an" fill="#ec4f33">510</text>
<text transform="translate(301.10,453.90) rotate(-90)" y="3.24" class="an" fill="#452c91">501</text>
<text transform="translate(308.15,483.35) rotate(-90)" y="3.24" class="an" fill="#8e3cb4">498</text>
<text transform="translate(333.45,450.60) rotate(-90)" y="3.24" class="an" fill="#2ea043">477</text>
<text transform="translate(331.55,505.30) rotate(-90)" y="3.24" class="an" fill="#8e3cb4">479</text>
<text transform="translate(346.80,498.95) rotate(-90)" y="3.24" class="an" fill="#452c91">477</text>
<text transform="translate(360.30,471.60) rotate(-90)" y="3.24" class="an" fill="#8e3cb4">455</text>
<text transform="translate(367.95,500.50) rotate(-90)" y="3.24" class="an" fill="#452c91">453</text>
<text transform="translate(383.15,457.50) rotate(-90)" y="3.24" class="an" fill="#452c91">439</text>
<text transform="translate(393.20,448.05) rotate(-90)" y="3.24" class="an" fill="#8e3cb4">432</text>
<text transform="translate(411.05,454.35) rotate(-90)" y="3.24" class="an" fill="#8e3cb4">415</text>
<text transform="translate(18.5,165.8) scale(0.86,1)" class="tl">1500</text>
<text transform="translate(50.02,165.8) scale(0.86,1)" class="tl">1450</text>
<text transform="translate(81.53,165.8) scale(0.86,1)" class="tl">1400</text>
<text transform="translate(113.05,165.8) scale(0.86,1)" class="tl">1350</text>
<text transform="translate(144.57,165.8) scale(0.86,1)" class="tl">1300</text>
<text transform="translate(176.08,165.8) scale(0.86,1)" class="tl">1250</text>
<text transform="translate(207.6,165.8) scale(0.86,1)" class="tl">1200</text>
<path d="M18.5 151.5V156.5M34.26 151.5V154.5M50.02 151.5V156.5M65.78 151.5V154.5M81.53 151.5V156.5M97.29 151.5V154.5M113.05 151.5V156.5M128.81 151.5V154.5M144.57 151.5V156.5M160.32 151.5V154.5M176.08 151.5V156.5M191.84 151.5V154.5M207.6 151.5V156.5" stroke="#2b2b2b" stroke-width="1.2" fill="none"/>
<rect x="18.5" y="10" width="189.6" height="141.5" fill="none" stroke="#2b2b2b" stroke-width="1.3"/>
<text transform="translate(20.1,23.6) scale(1.14,1)" class="pl">A</text>
<text x="113.05" y="176.7" class="xl">Raman shift /cm<tspan dy="-3.5" font-size="7">−1</tspan></text>
<text transform="translate(15,80.75) rotate(-90)" x="0" y="0" class="yl">Raman intensity / a.u.</text>
<text transform="translate(242,165.5) scale(0.86,1)" class="tl">1500</text>
<text transform="translate(289.08,165.5) scale(0.86,1)" class="tl">1450</text>
<text transform="translate(336.17,165.5) scale(0.86,1)" class="tl">1400</text>
<text transform="translate(383.25,165.5) scale(0.86,1)" class="tl">1350</text>
<text transform="translate(430.33,165.5) scale(0.86,1)" class="tl">1300</text>
<text transform="translate(477.42,165.5) scale(0.86,1)" class="tl">1250</text>
<text transform="translate(524.5,165.5) scale(0.86,1)" class="tl">1200</text>
<path d="M242 151.2V156.2M265.54 151.2V154.2M289.08 151.2V156.2M312.62 151.2V154.2M336.17 151.2V156.2M359.71 151.2V154.2M383.25 151.2V156.2M406.79 151.2V154.2M430.33 151.2V156.2M453.88 151.2V154.2M477.42 151.2V156.2M500.96 151.2V154.2M524.5 151.2V156.2" stroke="#2b2b2b" stroke-width="1.2" fill="none"/>
<rect x="242" y="10" width="282.5" height="141.2" fill="none" stroke="#2b2b2b" stroke-width="1.3"/>
<text transform="translate(243.6,23.6) scale(1.14,1)" class="pl">B</text>
<text x="383.25" y="176.4" class="xl">Raman shift /cm<tspan dy="-3.5" font-size="7">−1</tspan></text>
<text transform="translate(238.5,80.6) rotate(-90)" x="0" y="0" class="yl">Raman intensity / a.u.</text>
<text transform="translate(19,348.3) scale(0.86,1)" class="tl">1200</text>
<text transform="translate(54.53,348.3) scale(0.86,1)" class="tl">1125</text>
<text transform="translate(90.06,348.3) scale(0.86,1)" class="tl">1050</text>
<text transform="translate(125.59,348.3) scale(0.86,1)" class="tl">975</text>
<text transform="translate(161.12,348.3) scale(0.86,1)" class="tl">900</text>
<text transform="translate(196.66,348.3) scale(0.86,1)" class="tl">825</text>
<path d="M19 334V339M36.77 334V337M54.53 334V339M72.3 334V337M90.06 334V339M107.83 334V337M125.59 334V339M143.36 334V337M161.12 334V339M178.89 334V337M196.66 334V339" stroke="#2b2b2b" stroke-width="1.2" fill="none"/>
<rect x="19" y="192" width="189.5" height="142" fill="none" stroke="#2b2b2b" stroke-width="1.3"/>
<text transform="translate(20.6,205.6) scale(1.14,1)" class="pl">C</text>
<text x="113.75" y="359.2" class="xl">Raman shift /cm<tspan dy="-3.5" font-size="7">−1</tspan></text>
<text transform="translate(15.5,263) rotate(-90)" x="0" y="0" class="yl">Raman intensity / a.u.</text>
<text transform="translate(242,348.6) scale(0.86,1)" class="tl">1200</text>
<text transform="translate(277.38,348.6) scale(0.86,1)" class="tl">1150</text>
<text transform="translate(312.75,348.6) scale(0.86,1)" class="tl">1100</text>
<text transform="translate(348.12,348.6) scale(0.86,1)" class="tl">1050</text>
<text transform="translate(383.5,348.6) scale(0.86,1)" class="tl">1000</text>
<text transform="translate(418.88,348.6) scale(0.86,1)" class="tl">950</text>
<text transform="translate(454.25,348.6) scale(0.86,1)" class="tl">900</text>
<text transform="translate(489.62,348.6) scale(0.86,1)" class="tl">850</text>
<text transform="translate(525,348.6) scale(0.86,1)" class="tl">800</text>
<path d="M242 334.3V339.3M259.69 334.3V337.3M277.38 334.3V339.3M295.06 334.3V337.3M312.75 334.3V339.3M330.44 334.3V337.3M348.12 334.3V339.3M365.81 334.3V337.3M383.5 334.3V339.3M401.19 334.3V337.3M418.88 334.3V339.3M436.56 334.3V337.3M454.25 334.3V339.3M471.94 334.3V337.3M489.62 334.3V339.3M507.31 334.3V337.3M525 334.3V339.3" stroke="#2b2b2b" stroke-width="1.2" fill="none"/>
<rect x="242" y="192.5" width="283" height="141.8" fill="none" stroke="#2b2b2b" stroke-width="1.3"/>
<text transform="translate(243.6,206.1) scale(1.14,1)" class="pl">D</text>
<text x="383.5" y="359.5" class="xl">Raman shift /cm<tspan dy="-3.5" font-size="7">−1</tspan></text>
<text transform="translate(238.5,263.4) rotate(-90)" x="0" y="0" class="yl">Raman intensity / a.u.</text>
<text transform="translate(19.1,532.9) scale(0.86,1)" class="tl">550</text>
<text transform="translate(50.58,532.9) scale(0.86,1)" class="tl">525</text>
<text transform="translate(82.07,532.9) scale(0.86,1)" class="tl">500</text>
<text transform="translate(113.55,532.9) scale(0.86,1)" class="tl">475</text>
<text transform="translate(145.03,532.9) scale(0.86,1)" class="tl">450</text>
<text transform="translate(176.52,532.9) scale(0.86,1)" class="tl">425</text>
<text transform="translate(208,532.9) scale(0.86,1)" class="tl">400</text>
<path d="M19.1 518.6V523.6M34.84 518.6V521.6M50.58 518.6V523.6M66.33 518.6V521.6M82.07 518.6V523.6M97.81 518.6V521.6M113.55 518.6V523.6M129.29 518.6V521.6M145.03 518.6V523.6M160.78 518.6V521.6M176.52 518.6V523.6M192.26 518.6V521.6M208 518.6V523.6" stroke="#2b2b2b" stroke-width="1.2" fill="none"/>
<rect x="19.1" y="377.3" width="188.9" height="141.3" fill="none" stroke="#2b2b2b" stroke-width="1.3"/>
<text transform="translate(20.7,390.9) scale(1.14,1)" class="pl">E</text>
<text x="113.55" y="543.8" class="xl">Raman shift /cm<tspan dy="-3.5" font-size="7">−1</tspan></text>
<text transform="translate(15.6,447.95) rotate(-90)" x="0" y="0" class="yl">Raman intensity / a.u.</text>
<text transform="translate(241.8,533.5) scale(0.86,1)" class="tl">550</text>
<text transform="translate(273.42,533.5) scale(0.86,1)" class="tl">525</text>
<text transform="translate(305.03,533.5) scale(0.86,1)" class="tl">500</text>
<text transform="translate(336.65,533.5) scale(0.86,1)" class="tl">475</text>
<text transform="translate(368.27,533.5) scale(0.86,1)" class="tl">450</text>
<text transform="translate(399.88,533.5) scale(0.86,1)" class="tl">425</text>
<text transform="translate(431.5,533.5) scale(0.86,1)" class="tl">400</text>
<path d="M241.8 519.2V524.2M257.61 519.2V522.2M273.42 519.2V524.2M289.23 519.2V522.2M305.03 519.2V524.2M320.84 519.2V522.2M336.65 519.2V524.2M352.46 519.2V522.2M368.27 519.2V524.2M384.07 519.2V522.2M399.88 519.2V524.2M415.69 519.2V522.2M431.5 519.2V524.2" stroke="#2b2b2b" stroke-width="1.2" fill="none"/>
<rect x="241.8" y="377.5" width="189.7" height="141.7" fill="none" stroke="#2b2b2b" stroke-width="1.3"/>
<text transform="translate(243.4,391.1) scale(1.14,1)" class="pl">F</text>
<text x="336.65" y="544.4" class="xl">Raman shift /cm<tspan dy="-3.5" font-size="7">−1</tspan></text>
<text transform="translate(238.3,448.35) rotate(-90)" x="0" y="0" class="yl">Raman intensity / a.u.</text>
<path d="M437.7 425.5H466" stroke="#8e3cb4" stroke-width="1.5" opacity="0.85"/>
<text x="471.5" y="428.3" class="lg">α-CD+CA</text>
<path d="M437.7 437.6H466" stroke="#452c91" stroke-width="1.5" opacity="0.85"/>
<text x="472.5" y="440.4" class="lg">β-CD+CA</text>
<path d="M437.7 449.4H466" stroke="#ec4f33" stroke-width="1.5" opacity="0.85"/>
<text x="471.5" y="452.2" class="lg">γ-CD+CA</text>
<path d="M437.7 460.9H466" stroke="#2ea043" stroke-width="1.5" opacity="0.85"/>
<text x="470.4" y="463.7" class="lg">2HP-β-CD+CA</text>
</svg>
</body></html>
